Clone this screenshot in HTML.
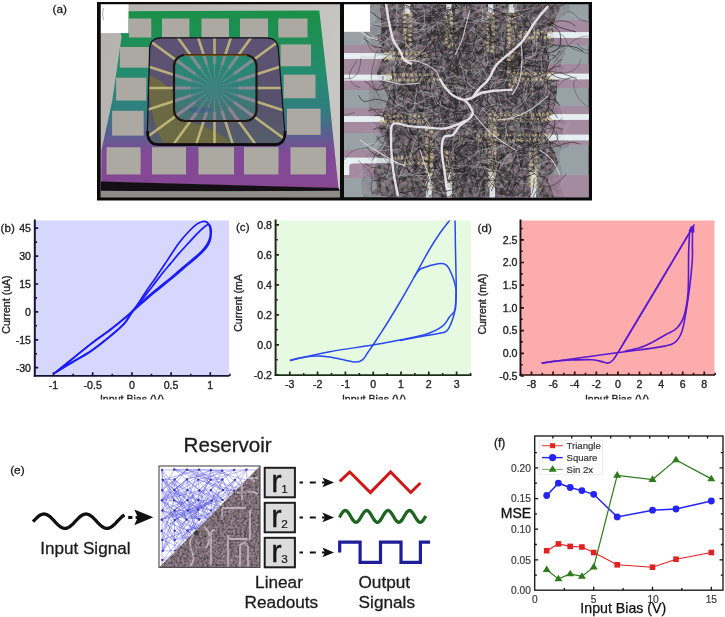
<!DOCTYPE html><html><head><meta charset="utf-8"><title>Figure</title><style>html,body{margin:0;padding:0;background:#fff;width:725px;height:617px;overflow:hidden}svg{display:block}</style></head><body>
<svg width="725" height="617" viewBox="0 0 725 617" font-family="'Liberation Sans', Arial, Helvetica, sans-serif">
<rect width="725" height="617" fill="#fff"/>
<text x="52.6" y="12.8" font-size="11.8" fill="#1a1a1a" stroke="#1a1a1a" stroke-width="0.3">(a)</text>
<defs><clipPath id="cl"><rect x="100.7" y="4.3" width="239.5" height="193"/></clipPath><clipPath id="cr"><rect x="344" y="4.3" width="244.7" height="193"/></clipPath><clipPath id="outsq"><path d="M149.7 48.8 Q150 37.8 161 37.8L266.4 37.8 Q277.4 37.8 278.3 48.8L284.9 133.2 Q285.8 144.2 274.8 144.2L158 144.2 Q147 144.2 147.3 133.2Z"/></clipPath><clipPath id="insq"><rect x="174" y="55" width="82.5" height="66" rx="11"/></clipPath><linearGradient id="chipg" x1="0" y1="0" x2="0" y2="1"><stop offset="0" stop-color="#1a9048"/><stop offset="0.18" stop-color="#1f8e58"/><stop offset="0.35" stop-color="#248c70"/><stop offset="0.55" stop-color="#2f7f7e"/><stop offset="0.68" stop-color="#54628e"/><stop offset="0.8" stop-color="#804a96"/><stop offset="1" stop-color="#874692"/></linearGradient><linearGradient id="bgl" x1="0" y1="0" x2="1" y2="0.3"><stop offset="0" stop-color="#b4b2ae"/><stop offset="1" stop-color="#c8c6c2"/></linearGradient><linearGradient id="osg" x1="0" y1="0" x2="0" y2="1"><stop offset="0" stop-color="#5e5274"/><stop offset="0.6" stop-color="#57516c"/><stop offset="1" stop-color="#545e6a"/></linearGradient><linearGradient id="isg" x1="0" y1="0" x2="0" y2="1"><stop offset="0" stop-color="#248a70"/><stop offset="0.55" stop-color="#33807a"/><stop offset="1" stop-color="#4e6c72"/></linearGradient></defs>
<rect x="97" y="2" width="495" height="198.5" fill="#0a0a0a"/>
<g clip-path="url(#cl)">
<rect x="100" y="4" width="241" height="194" fill="url(#bgl)"/>
<path d="M116 11.3 L319.3 10.6 L329.4 100 L338.5 188.5 L101.2 182 L101.5 150 L112.4 100 L121.5 37 Z" fill="url(#chipg)"/>
<path d="M101 181.5 L338.5 188 L340 191 Q220 192 101 191 Z" fill="#120e14"/>
<path d="M101 190.8 Q220 192 340 190.8 V198 H100 Z" fill="#8e8c8a"/>
<rect x="129" y="18.5" width="22.3" height="19" fill="#aca9a2"/>
<rect x="162" y="18.5" width="27.4" height="19" fill="#aca9a2"/>
<rect x="201.5" y="18.5" width="27.5" height="19" fill="#aca9a2"/>
<rect x="240" y="18.5" width="28" height="19" fill="#aca9a2"/>
<rect x="278.3" y="18.5" width="29.2" height="19" fill="#aca9a2"/>
<rect x="119.8" y="47" width="29" height="20.7" fill="#aca9a2"/>
<rect x="116.1" y="77.7" width="30.2" height="22.8" fill="#aca9a2"/>
<rect x="112.1" y="110.8" width="31.6" height="24.8" fill="#aca9a2"/>
<rect x="280.6" y="44.4" width="30.4" height="21.9" fill="#aca9a2"/>
<rect x="283.6" y="74.7" width="31.9" height="23.6" fill="#aca9a2"/>
<rect x="287" y="108.7" width="33.6" height="26.2" fill="#aca9a2"/>
<rect x="106.6" y="147.2" width="34" height="27.3" fill="#aca9a2"/>
<rect x="152" y="147.2" width="34" height="27.3" fill="#aca9a2"/>
<rect x="198.5" y="147.2" width="35.5" height="27.3" fill="#aca9a2"/>
<rect x="244" y="147.2" width="34.5" height="27.3" fill="#aca9a2"/>
<rect x="290.5" y="147.2" width="35.5" height="27.3" fill="#aca9a2"/>
<path d="M149.7 48.8 Q150 37.8 161 37.8L266.4 37.8 Q277.4 37.8 278.3 48.8L284.9 133.2 Q285.8 144.2 274.8 144.2L158 144.2 Q147 144.2 147.3 133.2Z" fill="url(#osg)"/>
<g clip-path="url(#outsq)">
<path d="M147 75 Q152 130 165 144 L235 146 Q215 128 190 122 L178 98 Q162 78 147 75Z" fill="#6e6c3e" opacity="0.9"/>
<path d="M214.5 68 L214.5 -22M220.7 69 L248.5 -16.6M226.3 71.8 L279.2 -1M230.7 76.2 L303.5 23.3M233.5 81.8 L319.1 54M234.5 88 L324.5 88M233.5 94.2 L319.1 122M230.7 99.8 L303.5 152.7M226.3 104.2 L279.2 177M220.7 107 L248.5 192.6M214.5 108 L214.5 198M208.3 107 L180.5 192.6M202.7 104.2 L149.8 177M198.3 99.8 L125.5 152.7M195.5 94.2 L109.9 122M194.5 88 L104.5 88M195.5 81.8 L109.9 54M198.3 76.2 L125.5 23.3M202.7 71.8 L149.8 -1M208.3 69 L180.5 -16.6" stroke="#c9c07c" stroke-width="2.6" fill="none" opacity="0.85"/>
</g>
<path d="M149.7 48.8 Q150 37.8 161 37.8L266.4 37.8 Q277.4 37.8 278.3 48.8L284.9 133.2 Q285.8 144.2 274.8 144.2L158 144.2 Q147 144.2 147.3 133.2Z" fill="none" stroke="#141016" stroke-width="1.2"/>
<path d="M147.6 131 Q147.5 144.4 158 144.6 H274.5 Q285.8 144.4 284.9 131" fill="none" stroke="#0e0a0e" stroke-width="2.6"/>
<rect x="174" y="55" width="82.5" height="66" rx="11" fill="url(#isg)"/>
<g clip-path="url(#insq)">
<path d="M214.5 88 L212.6 26 L216.4 26 ZM214.5 88 L231.9 28.5 L235.4 29.6 ZM214.5 88 L249.4 36.8 L252.4 39 ZM214.5 88 L263.5 50.1 L265.7 53.1 ZM214.5 88 L272.9 67.1 L274 70.6 ZM214.5 88 L276.5 86.1 L276.5 89.9 ZM214.5 88 L274 105.4 L272.9 108.9 ZM214.5 88 L265.7 122.9 L263.5 125.9 ZM214.5 88 L252.4 137 L249.4 139.2 ZM214.5 88 L235.4 146.4 L231.9 147.5 ZM214.5 88 L216.4 150 L212.6 150 ZM214.5 88 L197.1 147.5 L193.6 146.4 ZM214.5 88 L179.6 139.2 L176.6 137 ZM214.5 88 L165.5 125.9 L163.3 122.9 ZM214.5 88 L156.1 108.9 L155 105.4 ZM214.5 88 L152.5 89.9 L152.5 86.1 ZM214.5 88 L155 70.6 L156.1 67.1 ZM214.5 88 L163.3 53.1 L165.5 50.1 ZM214.5 88 L176.6 39 L179.6 36.8 ZM214.5 88 L193.6 29.6 L197.1 28.5 Z" fill="#b890a8" opacity="0.45"/>
<path d="M214.5 64 L214.5 26M221.9 65.2 L233.7 29M228.6 68.6 L250.9 37.8M233.9 73.9 L264.7 51.6M237.3 80.6 L273.5 68.8M238.5 88 L276.5 88M237.3 95.4 L273.5 107.2M233.9 102.1 L264.7 124.4M228.6 107.4 L250.9 138.2M221.9 110.8 L233.7 147M214.5 112 L214.5 150M207.1 110.8 L195.3 147M200.4 107.4 L178.1 138.2M195.1 102.1 L164.3 124.4M191.7 95.4 L155.5 107.2M190.5 88 L152.5 88M191.7 80.6 L155.5 68.8M195.1 73.9 L164.3 51.6M200.4 68.6 L178.1 37.8M207.1 65.2 L195.3 29" stroke="#b08ca2" stroke-width="3.6" opacity="0.45" fill="none"/>
<ellipse cx="200" cy="110" rx="12" ry="3" fill="#3a5a8a" opacity="0.5"/>
</g>
<rect x="174" y="55" width="82.5" height="66" rx="11" fill="none" stroke="#1e160e" stroke-width="2.2"/>
<path d="M184 55.3 H247" stroke="#8a6a20" stroke-width="1.6" opacity="0.7"/>
<rect x="100.7" y="4.3" width="27.8" height="28.8" fill="#fff"/>
<path d="M103.5 8 Q101.5 14 103.5 20" stroke="#555" stroke-width="0.8" fill="none" opacity="0.6"/>
</g>
<rect x="340" y="2" width="4" height="198" fill="#0a0a0a"/>
<defs><filter id="tex" x="0" y="0" width="1" height="1" filterUnits="objectBoundingBox"><feTurbulence type="fractalNoise" baseFrequency="0.22" numOctaves="3" seed="4" result="n"/><feColorMatrix in="n" type="matrix" values="1 0 0 0 0  0.8 0.2 0 0 0  0.8 0 0.2 0 0  0 0 0 0 1" result="g"/><feComponentTransfer in="g" result="gc"><feFuncR type="linear" slope="2.2" intercept="-0.6"/><feFuncG type="linear" slope="2.2" intercept="-0.6"/><feFuncB type="linear" slope="2.2" intercept="-0.6"/></feComponentTransfer><feComposite in="SourceGraphic" in2="gc" operator="arithmetic" k1="1.5" k2="0.25" k3="0" k4="0"/></filter><filter id="tex2" x="0" y="0" width="1" height="1" filterUnits="objectBoundingBox"><feTurbulence type="fractalNoise" baseFrequency="0.3" numOctaves="2" seed="9" result="n"/><feColorMatrix in="n" type="matrix" values="1 0 0 0 0  1 0 0 0 0  1 0 0 0 0  0 0 0 0 1" result="g"/><feComponentTransfer in="g" result="gc"><feFuncR type="linear" slope="1.2" intercept="0.05"/><feFuncG type="linear" slope="1.2" intercept="0.05"/><feFuncB type="linear" slope="1.2" intercept="0.05"/></feComponentTransfer><feComposite in="SourceGraphic" in2="gc" operator="arithmetic" k1="1.5" k2="0.25" k3="0" k4="0"/></filter></defs>
<g clip-path="url(#cr)">
<g>
<rect x="344" y="4" width="245" height="194" fill="#98a1a6"/>
<path d="M407.5 0 V50M449 0 V50M490.8 0 V50M511.5 0 V50M429 150 V200M449.5 150 V200M492.3 150 V200M533.5 150 V200" stroke="#a48ba0" stroke-width="19" fill="none"/>
<rect x="344" y="45" width="76" height="45" fill="#a48ba0"/>
<rect x="344" y="108" width="76" height="25" fill="#a48ba0"/>
<rect x="344" y="150" width="76" height="28" fill="#a48ba0"/>
<rect x="500" y="20" width="90" height="25" fill="#a48ba0"/>
<rect x="500" y="64" width="90" height="24" fill="#a48ba0"/>
<rect x="500" y="106" width="90" height="39" fill="#a48ba0"/>
<rect x="500" y="175" width="90" height="23" fill="#a48ba0"/>
<path d="M407.5 0 V50M449 0 V50M490.8 0 V50M511.5 0 V50M429 150 V200M449.5 150 V200M492.3 150 V200M533.5 150 V200M344 56 H430M344 77.5 H430M344 119 H430M344 160.5 H430M505 35 H590M505 76.5 H590M505 117 H590M505 137.5 H590" stroke="#e6f0f2" stroke-width="5.5" fill="none"/>
<path d="M346.5 175 V166 Q347 160.5 354 160.5" stroke="#e6f0f2" stroke-width="5.5" fill="none"/>
</g>
<path d="M370 0 C377 -3.4 402.3 0 418.5 0 C434.7 0 450.8 0 467 0 C483.2 0 498.5 -1 515.5 0 C532.5 1 562 2.2 568.8 5.8 C575.6 9.3 558.3 18 556.3 21.4 C554.3 24.8 555.5 21.3 556.9 26 C558.3 30.7 564.3 43.2 564.9 49.5 C565.5 55.9 560.6 60.8 560.3 63.9 C560 67.1 563.5 65.7 563.3 68.4 C563.1 71.2 560.7 76.2 559.4 80.6 C558 84.9 554.4 87.4 555.3 94.4 C556.1 101.3 564.6 117.7 564.7 122.2 C564.9 126.7 555.3 117.8 556 121.3 C556.7 124.9 568.4 138.1 568.9 143.4 C569.5 148.7 560.5 147.4 559.4 152.9 C558.2 158.5 562 171.4 562.1 176.6 C562.1 181.9 559.9 180.6 559.6 184.5 C559.2 188.4 567.9 197.4 560 200 C552.1 202.6 528 200 512 200 C496 200 480 200 464 200 C448 200 431.7 199.2 416 200 C400.3 200.8 379.1 207.2 370.1 204.6 C361.1 202.1 363.2 189.3 362 184.7 C360.8 180.1 362.4 181.7 363 176.9 C363.6 172.2 363.2 161.1 365.6 156.4 C367.9 151.7 375.2 153.3 377.1 148.5 C379 143.7 378.3 132.9 377 127.8 C375.8 122.7 370.8 123.2 369.5 118 C368.3 112.8 369.8 103 369.7 96.7 C369.5 90.3 368.9 83 368.7 80.1 C368.6 77.2 367 82.7 368.6 79.2 C370.2 75.8 377.8 65.7 378.2 59.2 C378.6 52.7 373.4 46 371.1 40.3 C368.9 34.6 364 28.3 364.9 24.9 C365.7 21.6 375.4 24.3 376.2 20.2 C377.1 16 363 3.4 370 0 Z" fill="#6c5764" opacity="0.22" filter="url(#tex)"/>
<path d="M384 0 C391.5 -3 412.3 0 426.5 0 C440.7 0 454.8 0 469 0 C483.2 0 496.3 -0.3 511.5 0 C526.7 0.3 552.2 0.6 560.2 2.1 C568.2 3.6 560.5 5 559.3 8.9 C558.1 12.7 553.9 19.2 553 25 C552.1 30.9 554.9 39.2 553.8 43.9 C552.6 48.6 546.8 47.6 546 53.2 C545.3 58.7 547.8 72.6 549.5 77.3 C551.1 81.9 554.9 78 556 80.9 C557.1 83.9 556.6 90.3 556.2 94.9 C555.7 99.6 555.3 102.6 553.4 109.1 C551.4 115.5 545.5 128.8 544.5 133.8 C543.4 138.7 544.9 134.1 547.1 138.9 C549.3 143.6 557.5 155.9 557.6 162.4 C557.7 168.9 548.8 173.6 547.6 177.9 C546.5 182.2 550.4 184.5 550.8 188.2 C551.2 191.9 557.2 198 550 200 C542.8 202 521.7 200 507.5 200 C493.3 200 479.2 200 465 200 C450.8 200 437.5 201 422.5 200 C407.5 199 382.5 196.1 375 193.9 C367.6 191.8 377.8 190.5 377.6 187.2 C377.5 183.8 373.7 179.4 373.9 173.9 C374.1 168.5 377 159.7 379 154.5 C381.1 149.3 386.1 146.9 386.2 142.6 C386.3 138.2 379.7 134.1 379.6 128.3 C379.4 122.6 383.8 113.9 385.4 108.1 C387.1 102.3 389.4 96.2 389.7 93.3 C389.9 90.4 389 93.5 386.9 90.5 C384.8 87.6 377.9 80.8 377.1 75.5 C376.4 70.1 382.3 64.7 382.4 58.2 C382.5 51.8 378.1 40.4 377.8 36.5 C377.6 32.6 380.1 38.1 380.7 34.9 C381.3 31.8 380.8 23.7 381.3 17.9 C381.9 12 376.5 3 384 0 Z" fill="#6c6268" filter="url(#tex)"/>
<path d="M344 56 H392M344 77.5 H392M344 119 H384 M344 160.5 H396M547 35 H590M547 76.5 H590M547 117 H590M547 137.5 H590M407.5 4 V14M449 4 V14M490.8 4 V14M511.5 4 V14M429 172 V198M449.5 172 V198M492.3 172 V198M533.5 172 V198" stroke="#e6f0f2" stroke-width="5.5" fill="none" opacity="0.9"/>
<path d="M384 58.6 L424 58.6 Q428.2 56 424 53.4 L384 53.4M386 80.1 L436 80.1 Q440.2 77.5 436 74.9 L386 74.9M380 121.6 L424 121.6 Q428.2 119 424 116.4 L380 116.4M392 163.1 L430 163.1 Q434.2 160.5 430 157.9 L392 157.9M552 32.4 L522 32.4 Q517.8 35 522 37.6 L552 37.6M553 73.9 L516 73.9 Q511.8 76.5 516 79.1 L553 79.1M553 114.4 L500 114.4 Q495.8 117 500 119.6 L553 119.6M550 134.9 L480 134.9 Q475.8 137.5 480 140.1 L550 140.1M404.9 12 L404.9 44 Q407.5 48.2 410.1 44 L410.1 12M446.4 12 L446.4 44 Q449 48.2 451.6 44 L451.6 12M488.2 12 L488.2 50 Q490.8 54.2 493.4 50 L493.4 12M508.9 12 L508.9 84 Q511.5 88.2 514.1 84 L514.1 12M431.6 188 L431.6 126 Q429 121.8 426.4 126 L426.4 188M452.1 188 L452.1 152 Q449.5 147.8 446.9 152 L446.9 188M494.9 188 L494.9 114 Q492.3 109.8 489.7 114 L489.7 188M536.1 188 L536.1 152 Q533.5 147.8 530.9 152 L530.9 188" stroke="#ccb886" stroke-width="3.4" fill="none" opacity="0.8" stroke-dasharray="2.6 1.6"/>
<path d="M384 58.6 L424 58.6 Q428.2 56 424 53.4 L384 53.4M386 80.1 L436 80.1 Q440.2 77.5 436 74.9 L386 74.9M380 121.6 L424 121.6 Q428.2 119 424 116.4 L380 116.4M392 163.1 L430 163.1 Q434.2 160.5 430 157.9 L392 157.9M552 32.4 L522 32.4 Q517.8 35 522 37.6 L552 37.6M553 73.9 L516 73.9 Q511.8 76.5 516 79.1 L553 79.1M553 114.4 L500 114.4 Q495.8 117 500 119.6 L553 119.6M550 134.9 L480 134.9 Q475.8 137.5 480 140.1 L550 140.1M404.9 12 L404.9 44 Q407.5 48.2 410.1 44 L410.1 12M446.4 12 L446.4 44 Q449 48.2 451.6 44 L451.6 12M488.2 12 L488.2 50 Q490.8 54.2 493.4 50 L493.4 12M508.9 12 L508.9 84 Q511.5 88.2 514.1 84 L514.1 12M431.6 188 L431.6 126 Q429 121.8 426.4 126 L426.4 188M452.1 188 L452.1 152 Q449.5 147.8 446.9 152 L446.9 188M494.9 188 L494.9 114 Q492.3 109.8 489.7 114 L489.7 188M536.1 188 L536.1 152 Q533.5 147.8 530.9 152 L530.9 188" stroke="#e8dcb0" stroke-width="1" fill="none" opacity="0.5" stroke-dasharray="1 3"/>
<path d="M439 192.2 Q444.3 201.4 443.7 205.3 T439 214.5 T434.4 223M533.8 96 Q541.1 100 545.2 99.2 T553.7 100 T559.9 105.9M494.9 168.9 Q495.2 161.7 498.5 159 T507.3 153.5 T519.1 153.9M413.9 42.8 Q419.4 40.8 422 36.7 T427.7 29.8 T437.4 25M444.4 35.1 Q432.3 34.1 429.7 34.4 T423.8 37.2 T419.1 42.8M520.3 46.7 Q514.1 57.8 514.6 63.8 T516.9 74 T520.9 80.3M495.7 9.2 Q498.1 1.6 498.2 -3.5 T497.8 -14.2 T494.3 -22.1M448 52.1 Q457.4 42.6 458.6 36.4 T462.1 28.6 T467.4 22.5M471.6 5.8 Q472.7 -1.5 474.7 -3.4 T481.7 -6.7 T493.6 -9.7M503 116.6 Q495.3 126.6 489.1 127.4 T476.9 125.4 T468.5 119.5M414.4 157.4 Q413.4 164.3 415.8 166.7 T423.3 169.7 T431 172.8M414.7 127.5 Q408.6 127.2 405.5 125.7 T397.1 127.1 T389.5 134.5M420.6 114.7 Q425.5 104.9 423.6 101.6 T416.7 94 T406.1 87.4M480.3 12.9 Q471 12.8 467.7 17.1 T461 22.6 T454.2 25.4M422.9 173.6 Q413.6 168.4 410.3 165.4 T406.2 160 T404.5 154.4M531.8 38.9 Q531.6 47.2 527.5 50.8 T521.1 59.8 T514.6 69.2M462.1 178.2 Q465 170.6 467.2 165.6 T471.5 158 T473.6 152.4M498.8 154.6 Q501.1 168.3 497.4 173.7 T495 184.8 T498.1 196.7M402.4 82.2 Q412.2 89.3 415.3 91.4 T422.3 97.1 T425.9 104.5M413.5 82.9 Q414.2 91.1 414.2 94.1 T414 99.8 T416.2 105M433.3 144.6 Q431.7 151.7 427.3 153.8 T419.4 157.2 T412.9 164.4M516.1 68.7 Q508.7 69.9 502.8 66.9 T491.5 66.4 T481.4 66.9M448.8 69.7 Q454.8 72.8 460.7 73.9 T469.5 77.5 T478.1 83.8M545 17.4 Q553.1 24.7 559 27 T569 30.2 T575.9 31.9M416.3 148 Q424.7 149.9 431.1 152.1 T440.5 154.6 T449.9 156M516.6 80.6 Q523.6 86.9 526.6 88.8 T533 91.1 T541.3 88.4M441.4 80.3 Q436.6 76.8 430.9 74.1 T422.1 65.6 T420.6 54.1M498 164.1 Q498.6 172.5 500.1 176.4 T503.8 185.2 T510.9 191.2M507 62.9 Q498.7 56.7 496.1 56.7 T487.8 59.8 T478.6 65.9M524.5 64.3 Q524.4 56.1 523.2 49.4 T519.6 39.2 T511.6 33.2M497.5 47.7 Q493.7 38.6 491.7 36.3 T487 30.1 T480.7 23.6M529.5 159 Q536.9 152.3 541.4 153.4 T546.9 157.2 T550.8 164M471.3 155.7 Q460.3 160.9 457.8 161.5 T452.8 161.9 T447.4 162.7M478.4 34.7 Q482.2 38.9 488.3 38.7 T500.6 40.4 T509.2 44.8M446.7 91.4 Q457.9 96.3 460.9 96.3 T468.6 93.4 T476 89.9M513.9 120.6 Q505.6 127.2 499 125.8 T489 118.3 T483 111.5M424.6 100.1 Q436.4 99.2 439.6 96.5 T446.3 91.6 T450.1 82.9M420 183.5 Q426.9 177 428.6 171.6 T428.7 163.8 T423.2 159.9M538.7 50.9 Q526.6 51.8 523.2 55.4 T516.5 63.2 T512.6 72.3M436 156.4 Q435.8 169.7 433.9 172.8 T431.3 180.3 T428.2 191M417 39.8 Q408.8 42.1 406.5 46.9 T403.5 56 T401 66.5M461.6 155.4 Q466.1 167.5 463.6 173.2 T460.7 182.9 T464.2 191.7M520.5 14.3 Q521.6 22.5 526.6 26.5 T534.8 36.1 T542.4 42.7M517.2 76.8 Q522 64.9 519.1 59.2 T511.7 52.6 T500.5 51M407.9 133.6 Q416.6 133.2 420.8 138.6 T425 147.5 T428.9 154.5M506.4 127.3 Q517.1 121.9 519.3 120 T524.5 117.7 T531 119.2M543.9 188 Q536.4 198.8 531.6 202.7 T526.9 211.8 T531.6 220.2M513.5 174.9 Q509.3 185.8 506.5 190.3 T505.7 201.3 T505.9 211.8M546.4 43 Q557.2 46.2 560.7 45.8 T571 46.2 T583.4 51.3M524.1 55.6 Q516.7 67.3 513.5 69.6 T508.8 78.2 T506.6 88.8M490.1 55.7 Q492.9 61.3 499.4 63.5 T512 62.4 T523.8 58.5M444.5 150.5 Q434.4 158.6 434 162.3 T436.8 169.4 T444.7 173.9M526.1 180.1 Q515.3 175.9 513.7 172.2 T512.9 163.9 T518.1 154.4M449.9 112.2 Q441.4 120.8 438.3 124.8 T432.9 134.2 T424.6 142.8M479.3 134.7 Q486 141.3 489.5 140.8 T499.3 141.9 T509.2 142.6M441.9 51.4 Q427.9 52.1 423.6 54.6 T412.6 59.1 T403.3 62.3M473.8 54.2 Q471.6 45.6 474.6 42.4 T476.5 34.3 T475.7 24.3M491.3 34.2 Q489.5 27.2 488.3 24.5 T489.1 17.7 T493.4 10.9M456.3 33.6 Q447.5 32 446.2 29 T446.8 21.4 T446.7 12.2M542.6 146.6 Q546.4 141.3 549.8 137.5 T553.7 129.6 T555.1 120M408 102.1 Q408.3 108.9 406.9 114 T408.5 123.8 T409.6 135.2M511.4 173.3 Q502.9 171.1 497.5 168 T489.5 165.3 T483.4 165M449.4 7.5 Q441 9.4 437.8 9.8 T431.6 15.9 T427.7 25M420.7 23.4 Q426.3 19.7 431.2 19.8 T441.4 21.9 T449.2 29M408.6 40.3 Q397.4 46.3 393.4 50.8 T386.8 56.6 T380.7 63.3M421.8 51.5 Q430.7 60.8 437.1 61.4 T447.8 57.9 T456 51.1M442.9 77.7 Q452.9 81.6 455.7 80.3 T463.2 79.3 T469.3 81.9M532.7 158.2 Q525.9 152.8 522.1 152.7 T514.1 150.3 T505.2 145.3M492.7 106.8 Q489.5 114 485.5 114.8 T478 120.9 T473.1 130.7M447.6 126.2 Q451.7 130.1 456 130.6 T465.2 127.6 T474.2 123.1M520.4 77.3 Q528 76.5 530 73.5 T537.3 70.1 T545.1 71.5M441.2 92 Q438.4 99.5 439.1 105.8 T442.7 113.7 T446.8 120.7M465.4 82.3 Q465.3 91.5 464 94 T458.2 97.2 T451.3 102.8M447.5 165.5 Q446.6 159.5 450.6 154.3 T460.5 147.2 T467.6 141.5M419.5 28.8 Q425.4 22.3 427.1 20.5 T430.2 15.6 T429.1 6.3M504.6 131.3 Q498.8 138.5 494.1 138.1 T486.6 136.2 T482 130.6M495.9 155.7 Q486.5 156.3 483.6 155.5 T474.7 154.6 T466.4 155.9M490.9 139.3 Q484.3 140.8 481.8 140.5 T476.6 140.5 T470.1 138.1M441.9 11.6 Q431.9 10.9 427.6 12.7 T420.4 15.5 T413.8 17.4M495.6 140.9 Q505.3 135.2 509.9 136.9 T516.8 140.6 T523.1 144M441.7 154 Q440.1 159.9 435.8 161.9 T427.5 162.7 T420.9 158.1M391.5 125.5 Q398.3 118.6 403.9 116.2 T411.9 112.1 T419.5 108.8M392.2 114.7 Q393 103.6 395.3 97.8 T400 87 T405.4 80.2M440.5 57.3 Q438.4 67.1 432 69.7 T422.7 75.7 T416.9 81.7M435.2 157.8 Q444 155.2 449 154.4 T459.6 149.9 T467.3 139.6M501.7 143.7 Q512.9 146.6 516.2 148.7 T526 151 T538.8 152.3M505.1 156.1 Q501.5 159.9 497.7 160.7 T491.1 159.9 T486.9 155.6M461.4 156 Q453.1 152.6 451.6 149.9 T451.3 144.6 T458.2 141.1M504.3 79 Q505.6 68.8 506.5 66.1 T505.3 59.7 T501.4 51.4M405.7 174.9 Q411.9 167.3 415.3 164.8 T420 155.5 T424.2 147.3M542 68 Q530.4 64.5 524.8 64.8 T516.3 66.5 T509.6 66.4M458.8 61.8 Q469.4 60.1 471.7 57.9 T476.9 53.4 T483.8 47.5M426.2 136 Q434.6 125.6 433.7 122.9 T433.8 115.4 T431.5 105M509 181.9 Q500.2 192.3 495.5 197.1 T484.3 201 T474.5 201.3M419.3 89.4 Q433.1 91.5 434.4 93.8 T437.5 98.2 T439 103.6M535 173.4 Q526.3 177.9 519.9 177.3 T511.2 177.7 T504.9 178.6M429.4 90.2 Q423.6 90.6 420.4 88.6 T411.1 86 T401.5 81.5M447.8 59.1 Q440.2 56.8 435.9 56.4 T425.3 57.6 T416 60.3M542.2 194.1 Q549.5 196 552.1 199.9 T552.6 209.5 T552 219.5M543.2 115 Q548.8 110.6 548.8 104.1 T550.6 93.4 T549.9 83.6M538.1 50.4 Q544.3 51.4 546.7 52.5 T554.2 51.4 T560.3 43.8M437.1 167.6 Q431.5 158.5 427.4 156.8 T421.3 148.6 T414.9 140.5M409.8 72 Q422.7 67.1 427.7 65.8 T437.1 64.6 T445.6 66.1M532.2 133.4 Q539.7 133.1 543 134.6 T547.3 138.9 T550.9 142.5M440.1 7.7 Q441.8 15.6 443.2 18.6 T448.6 24.8 T455.7 30M455.6 108.5 Q443.7 102.8 438 104.8 T428.4 108.2 T418 112.1M457.9 70.5 Q450.3 60.6 448.6 58.5 T446.3 53.7 T443.5 48.9M484.7 137.1 Q481.6 145.7 480.7 152.4 T482.1 164.5 T485.4 174.3M430.4 79.1 Q442 84.8 444.6 88.6 T451.1 92.7 T458.8 94.2M475.1 184.6 Q480.1 179.3 481.9 176.8 T486.1 171.4 T487.9 165.2M420.5 180.7 Q413.4 176.2 410 171.9 T404 167.7 T397.8 172.3M400.1 141 Q397.8 133.5 393.6 131.6 T382.9 128.3 T373.3 129.5M493 143.4 Q501.2 139.6 504.8 139.1 T511.4 136.7 T520.5 132.2M423.4 111.7 Q414.9 107.8 413 103 T413.5 92.4 T417 83.9M446.5 37 Q439.6 40.7 435 42 T426.3 48.5 T417.2 55.9M478.9 195.5 Q477 182.1 475.9 179.7 T471.2 173.4 T462.4 168.3M400.7 109.4 Q407.5 113.4 411.3 112.6 T419 113.4 T424.3 121.5M395.7 153.2 Q398.1 157.8 398.2 163.3 T399.5 174.3 T398.9 182.7M390.3 53.7 Q384.7 47 379 47.4 T370.6 44.3 T363.5 38.5M451.9 168.9 Q443.9 167.7 440.9 168.2 T431.7 168.5 T420 164.3M412 178.4 Q406.3 168.8 406.4 163 T407 154.6 T410.3 149.7M450.5 104.9 Q452 97.4 453.1 94.4 T456.9 86 T465.2 79M533.4 102.6 Q534.9 111 534.7 115 T532.4 123.7 T530.8 131.9M437.5 73.2 Q432 76.2 426.3 80.1 T416.9 89.2 T408.1 97.1M450.3 168.6 Q451.4 161.4 455.3 157.7 T458.9 149.4 T455.5 142.8M455.2 49.7 Q466.4 51.5 472.9 52 T481.8 54.2 T486.2 60.8M487.7 7.4 Q497.2 11.2 502.6 13.5 T510.8 16.6 T517 20.9M508.2 104.9 Q507.5 95.4 506.4 90.7 T506.6 79.8 T512.4 70.4M470.8 111.6 Q463.6 113.5 462.3 116.4 T459.4 122 T457.6 129M455.1 69 Q445.9 75.5 442.8 75.8 T433.4 76.1 T422.1 77.3M450.9 119.1 Q443.1 110.4 442.5 103.9 T438.1 92.7 T434.3 82.3M494.8 177.2 Q492.5 172 493.1 168.3 T494.1 160.5 T497.9 152.5M531 171.2 Q537.4 162.5 538.5 159.6 T545.1 154.2 T555.1 152.6M472 157.7 Q469.1 170.3 470.4 176 T473.4 184.6 T473.9 192.7M468 153.8 Q457.7 157 455 160.5 T449.8 168.4 T448.4 176.6M504.3 68.1 Q509.1 65.8 511.6 66.8 T520.4 66.4 T533.1 62.7M419.9 173.6 Q430.9 179.3 437.4 178.9 T445.4 176 T447.7 170.2M503.9 164.1 Q501.2 171.4 499.6 174 T495.7 180.8 T491.4 191.1M451.4 16.3 Q457.5 17.3 463.9 19.5 T475.4 19.2 T486.3 14.2M450.5 63.1 Q451.3 68.2 449 73.8 T448.2 82.5 T449.7 89.8M449.8 183.3 Q446.2 174.5 442.2 170.8 T436.9 163.6 T435.5 157.7M498.3 40.6 Q489.3 43.3 485.8 45 T481.4 50.4 T478.5 56.4M477.1 102.1 Q483.7 98.8 486.7 97.9 T492.3 93.7 T498.2 86.5M487.6 102.7 Q487.4 89.6 488.4 86.8 T489.8 77.2 T486.9 67.8M445 62.7 Q436.8 63.8 434.9 62.1 T428.9 61.4 T419.7 65.9M535.1 71.8 Q534.4 58.5 537.4 54.7 T542.3 46.9 T542 37.9M465 50.9 Q461.5 46.5 462.4 40.5 T462.7 30.3 T457.7 20.9M388.8 50.8 Q399.4 51.2 403.2 46.2 T412.7 41.6 T420.9 44.6M540.4 88.1 Q531.4 86.8 524.6 88.5 T515.1 93.3 T510.3 103.1M423 23.7 Q411.1 28.6 404.8 27.4 T392.7 27.1 T384.4 26.7M541.5 61.1 Q537.6 71.4 538.6 74.5 T545.7 79.7 T558.6 80.6M414.3 9.6 Q410.5 -2.1 407 -3.1 T397 -4.9 T385.9 -7.2M439.1 65.1 Q436.7 59.6 435.9 55.7 T435.1 49 T432.6 41.7M519.1 171 Q522.1 158.8 523.5 155.5 T523.3 148.6 T518.4 143.6M509.8 125 Q499.7 133.4 499.9 138.3 T498.9 147.1 T498.7 156.9M514.2 160.1 Q520.5 163.8 526.2 167.4 T534.8 173.9 T544.4 176.8M478.1 105.6 Q483.3 106.3 486 107 T495 105.5 T505.3 101.3M501.4 180.3 Q491.1 179.9 488.4 180.7 T482.8 181.1 T475.3 180.2M544.1 68.4 Q541.1 56.7 543.4 53.5 T543.8 44.6 T543.2 32.4M433.3 146.3 Q442.1 145.8 445.6 148.2 T453.6 152.1 T462.1 154.1M509.9 142.3 Q498.1 143.2 494.3 144.6 T485.5 147.2 T478.1 146.5M449.8 164.7 Q453.8 168.4 459.8 171.3 T471.6 175.5 T483.5 177.1M486.7 90.1 Q476.5 88.3 471.8 88 T463.3 85.9 T453.6 83.7M423.9 97.7 Q413.3 90 408.4 88.8 T401.1 88.3 T395.9 90.3M537.6 89.5 Q545.1 97 547 102.7 T552.6 111.8 T557.3 117.7M521.3 137.8 Q528.2 131.1 528.6 128.5 T526.3 121.6 T521.1 113.9M443.1 72.9 Q448.4 65.8 453.6 62.3 T461.7 59.9 T467.7 67.2M425 127.6 Q418 129.2 414.2 130.6 T404.2 132.7 T395.5 136.5M541.1 162.2 Q534.4 164.8 530.6 169.8 T521.5 178.7 T513.9 186.8M520.3 27.3 Q528.7 26.3 533.8 27.9 T544.5 26.6 T553.6 23.3M449.3 10.9 Q440.9 16.7 436.5 17.4 T426.5 17.7 T417.8 19.1M479.5 85.4 Q486.2 79.1 490.3 80.1 T499.2 78.6 T508.6 75.2M427.1 24.1 Q425.7 30.8 426.6 33.7 T432.2 41.7 T441.8 51.1M390.4 90.2 Q401.6 89.5 405.4 90.3 T412 89.7 T417.1 83.9M516.3 182.4 Q513.5 186.7 512.7 189.6 T507 196.7 T495.9 202M499.6 43.7 Q489.6 42.1 486.6 40.5 T480.1 33 T473.6 25.7M524 139.8 Q516.7 138.8 515.2 135.7 T508.4 129.9 T497.7 123.3M466.9 10.9 Q466.7 -0.4 465.2 -6.1 T466 -15.5 T470.9 -24.6M529.3 66.1 Q523.6 68.2 517.9 68.4 T506.2 70.3 T496.3 70.4M413.3 106.8 Q405 109.1 402.2 108.3 T396.9 105.4 T392.4 99.8M476.9 58.3 Q470.5 63.3 470.6 67 T468.3 73.8 T464.4 82.6M389.6 139.8 Q389.5 153.8 390.9 156.9 T392.6 162.6 T392.1 169M473.3 119.2 Q473.8 127.7 477.7 130.5 T484.2 139.1 T486.5 148.9M399.5 141.7 Q409.6 149.1 411.1 151.4 T413.7 157.6 T416.5 167.6M429.7 141.4 Q430.4 133.4 427.5 127.3 T421 116.5 T411.5 108.4M538 131.9 Q542.4 136.1 544.6 139 T551.2 142.8 T561.3 147.1M424.2 81.1 Q410.8 84.1 407.5 89.1 T403.6 98 T403.7 104.6M408.8 8.2 Q415.6 13.9 416.3 17.2 T418.2 25.7 T417.5 36.3M399.9 192.8 Q412.1 191.3 415.3 190.4 T421.4 188.1 T427.8 188.2M478.4 98.3 Q469 104.6 462.7 104 T453.8 103.8 T445.4 104.2M452.9 127.9 Q464.9 122 470.6 123.6 T478.2 130.2 T482 137.2M459.4 138.7 Q453 150 454.4 153.3 T455.6 161.5 T454.1 170.9M517.6 72.2 Q506.8 77.6 502.9 81.7 T499.3 90.4 T496.6 97.3M515.7 62.4 Q506.5 57 504.9 54.1 T505 46.6 T505.6 38.2M546.9 73.8 Q546 66.9 548.8 62.6 T554.1 57.5 T560.1 50.8M414.2 137.2 Q409.2 140.7 407.5 147.2 T403.5 158.9 T397.7 170.2M454.6 111 Q461 112.5 464.3 111.1 T470.2 111.2 T477.8 115.1M437.8 112.1 Q439.9 118.9 441 123.8 T445.5 133 T452.8 137.8M510.5 18.8 Q513.9 13.7 517.6 12.2 T525.2 7.2 T533.6 -0.2M494.5 44.4 Q495.8 57.9 494.7 60.9 T495.5 66.5 T497.4 73.1M416.6 95.8 Q411.1 103 405.6 106 T396.9 112 T390.6 115.9M425.8 49.7 Q426.4 42.5 429 39.6 T431.4 30.7 T430.7 19.9M468.7 160.9 Q463.3 171.1 459.8 175.7 T452.2 181.3 T443.4 185.1M490.3 60.6 Q497 70.9 502.9 73.8 T511.6 80.9 T517 86.4M537.9 6.6 Q541.1 -3.7 538.6 -7.2 T536.4 -15.2 T541.3 -24.9M466.9 100.8 Q461.9 96.7 459.9 93.9 T455.8 89 T451.3 81.5M454.1 37.4 Q456.8 30 460 28.7 T465.7 25.1 T473.3 23.8M453.5 34.9 Q454.6 26.8 453.6 22.4 T453.7 12.3 T457.3 5.4M465.8 24.7 Q462.9 32.2 456.8 35.1 T448.3 44.4 T439.6 52.9M464.4 6.4 Q464.8 -1.8 463.4 -7 T458.1 -17.4 T451.4 -25M450.2 149.9 Q442.7 148 437 144 T426.8 136.8 T419.5 133.3M470 44.5 Q463.4 46.9 460.5 53.3 T457.1 64.4 T458.2 74.8M457.2 7.3 Q453.3 0.9 453.8 -2.8 T458.6 -9.3 T468.4 -11.9M445 22.8 Q447.9 29.8 451.9 30.8 T458 34.8 T458.3 42.5M410.9 98.8 Q415.6 101.3 421.2 104.3 T432.3 105.2 T439.8 98M389.1 17 Q392.3 26.7 398 30.5 T408.7 36.6 T415.3 44.3M434.8 153 Q425.9 145.9 420.7 142.6 T411.8 139.1 T406.6 136.6M438.8 81.4 Q450.2 83.2 452 85.2 T455.1 92.6 T454.5 100M472.4 11.2 Q467.7 0.3 467.3 -5.3 T468.7 -13 T472.9 -18.2M448.2 20.1 Q449.7 25.6 450.6 31.1 T455.5 42.2 T465.2 48.2M428.9 188.8 Q421.6 191.3 420.1 193.5 T416.3 197.5 T413.5 203.8M480 141 Q470.6 138 464.3 136.7 T453.5 134.4 T446.6 130.7M476.1 24.6 Q464 26.9 459.3 31.2 T447.9 34 T437.9 31.2M416.5 59.9 Q423.8 68.3 427.3 72.2 T430.3 82.9 T430.8 93M520.6 159.8 Q520.4 169.2 522 173.2 T523.7 180.7 T523.8 191M508.6 133.3 Q497.3 137.7 491.5 138.8 T481 138.4 T473.5 134.7M494 114.8 Q483.5 107.8 481 103.5 T479.4 95.2 T481.8 86M481.8 88.5 Q483.1 97.5 486.9 101.7 T493.9 109.3 T499.6 116.2M457.7 92.2 Q448.3 94.1 443.5 97.7 T434 100.8 T423.6 103.5" stroke="#1c181c" stroke-width="0.8" fill="none" opacity="0.8"/>
<path d="M414.4 136.4 Q409.6 131.4 408.5 125.4 T406.7 114.6 T404.3 108M537.2 86.2 Q539.3 99.3 538.3 103.7 T531.7 110.1 T522.2 114.4M474.4 137.2 Q475.7 132.2 477.6 130 T482 127.2 T488.1 122.1M546.2 17.6 Q538.7 13.6 535.6 13 T528.8 11.5 T523.2 6.2M512.3 76 Q511.4 62.9 514.7 60.1 T524.6 58.9 T537 63.4M473.5 57 Q465 49.7 465.1 47.1 T466.5 39.3 T471.8 31M497.3 148.3 Q495.3 142.4 493.5 139.5 T490.3 130.8 T486.1 123.6M470.1 172.1 Q479.7 166.8 480.2 163.1 T482.1 155.3 T484.6 145.2M459.9 194.2 Q466.5 182.2 466 178 T462.6 172.5 T454.2 167.3M442.1 55.8 Q439.5 66.1 437.1 67.6 T433.9 73.8 T431.5 81.4M504.5 104.7 Q507.3 111 511.3 112 T520.4 114.4 T530.8 113.9M464.6 169.9 Q462.8 177.2 466.1 181.7 T471.3 191 T473.6 199M468.1 83.2 Q469 90.7 470.3 96.5 T467.4 107.4 T462.3 117.6M471.7 175.9 Q466.1 180.3 462.4 184.2 T453 189.7 T443.7 191.3M547 76.4 Q547.9 87.3 547.6 92.4 T544.2 99.1 T538.4 105.7M483.1 89.2 Q478.1 82.5 476.2 77.5 T471.8 69.2 T468.7 60.7M411.9 63.2 Q416.5 70.9 420.2 72.9 T425.4 79 T426.8 88.5M510.7 48.3 Q517.4 47 520.5 45.6 T529 43.4 T536.9 40.6M448.9 182.3 Q449.8 176.9 453.1 172 T456.1 164.1 T455.5 158.3M405.8 102 Q403.8 113.2 403.7 117.5 T402.4 124.4 T400.1 132.7M388.6 69.4 Q393.7 74 399.7 72.8 T409 67.6 T416.9 59.5M518.7 178.6 Q507.2 181.6 503.6 178.4 T499 172.8 T500.3 164.6M461.6 94.7 Q452.5 98.8 450.3 101.4 T445.1 106.5 T438.2 111.4M508.4 125.5 Q515.1 116.7 519.9 116.8 T526.8 119.1 T529.7 124.9M498.8 86.8 Q506.8 84.2 510.1 79.7 T520.1 75.7 T532.8 78.1M488.1 35.5 Q488.7 29.5 491 24.6 T495.9 18.3 T500.9 18.2M533.4 152.1 Q534.1 145 532.2 140.3 T529.4 132.1 T531.8 123.9M393.3 97.1 Q404.9 90.2 409.8 86.9 T415.5 77.3 T420.1 66.9M544.5 53.8 Q547.1 41.9 546.7 37.3 T547.9 29.4 T551.8 21.4M427 131.7 Q434.2 137.6 437.3 142 T439.3 149.6 T436.7 157M538.4 17.8 Q537 23.9 532.6 26.4 T523.7 31.9 T515.7 34.4M527.7 171.1 Q525.7 159.2 523.4 156.3 T517.7 148.3 T509.4 140.9M412.8 5.7 Q404.4 -3.1 398.9 -3.8 T388.6 -4.7 T380 -8M433.5 7.4 Q434.4 18.5 437.6 20.8 T442.7 26.8 T449.8 32.7M445.2 161.5 Q444.4 168.2 443.2 171.6 T438.6 180.3 T436.1 188.9M498.3 166.6 Q492.1 174.1 489.7 178.9 T482.4 185.2 T476.2 190M509.8 172.2 Q514.6 160.5 513.1 155.8 T508.9 145.2 T506.1 134M443.6 89.3 Q450 91.6 452.1 93.8 T453.9 101.2 T453.7 109.5M483.6 96.1 Q481.3 101.1 481 105.6 T478.4 113.7 T473.7 122.4M514.8 55.6 Q509.4 62.7 509.6 68 T505.8 78.2 T502.7 89.2M490.5 122.8 Q501.1 128.1 504.5 130.2 T511.8 135 T515.8 143.9M417.5 78.7 Q409.8 69.8 406.2 69.5 T399.8 68.4 T394.3 69.4M389.4 156.4 Q389.5 164 388.4 169.7 T382.3 178.3 T372.5 180.6M494.7 142.6 Q501.7 133 507.3 132.4 T515.8 131.3 T521.7 130.4M463.7 125.4 Q458.8 123.4 457.6 120.4 T455.6 112.6 T456.5 104.4M477 58.7 Q484.4 67.7 486.3 69.8 T491 77.8 T500.2 86.5M509 180.8 Q507.2 174.6 503.1 168.9 T492.8 161.1 T482.9 158.8M490 84.9 Q481.5 84.4 477.2 79.9 T471.2 73 T463.8 66.9M431.9 121.4 Q422.1 127.9 420.8 132.2 T416.9 137.9 T408.6 136.6M508.8 184.9 Q510.4 179.5 509.4 177 T511.1 169 T519.6 161.8M452.4 151.1 Q460.3 143.7 465.9 145.2 T476.7 145.5 T483.6 141.1M525.7 193.3 Q531.7 201.7 537.5 204.2 T545.3 209.8 T554.1 213.5M531.5 131.4 Q532.3 138.9 530.7 142.7 T524.2 149.2 T514.4 151.1M475.1 7 Q464.3 3.4 460.2 4.3 T453.7 3.7 T449 -2.2M538.3 149.2 Q537.3 139.4 537.3 135.2 T537 126.9 T536.7 116M393.2 25.9 Q386.9 27.4 385.2 30.5 T380.5 34.8 T374.7 35.8M506.1 141.3 Q518.5 135.3 523.4 137.2 T532.7 143.6 T539.9 154.2M542.3 148.9 Q553.2 147.5 558.7 145.6 T568.7 142.6 T579.4 143.8M486.1 191.2 Q480.8 201.5 475.9 205.9 T471.5 216.4 T475.2 224.6M462.5 189.8 Q462.4 197.5 463.4 201.8 T465.2 209.7 T467.4 219.8M447.7 88.4 Q458.7 92 460.6 93.8 T468 99.4 T476.7 103M473.2 120.4 Q465.2 112.5 458.5 113.9 T449.1 115.9 T440.7 115.1M485 10.1 Q495.5 17 501.1 20.1 T512.8 20.4 T521.4 13.2M423.9 48.3 Q432.3 58.2 431.7 62.3 T430.3 71.1 T427.5 81.3M390.2 103.4 Q377.9 97.4 372 99.9 T363.5 101.2 T358.5 95.2M528.8 139.2 Q526 131.4 527.2 127.3 T524.8 118.2 T520 107.1M407.2 130.6 Q407.2 122 404 119.7 T396.4 117.9 T387.4 122.3M513.4 7.3 Q515.3 -2.3 516.5 -5.4 T517.2 -13.1 T519.9 -20.9M446.2 175.6 Q434.2 175.5 430.9 176.2 T425.2 182.9 T419.9 194M527.5 117.7 Q533.6 124.7 536.2 124.8 T542.8 123.9 T553 126.2M452.6 145.5 Q447.2 147.5 444.6 147.8 T435.9 148.3 T427.6 150M469.4 70.9 Q468.3 64.3 466.9 60.4 T466.5 53.2 T468.1 44M538.6 18.2 Q530.3 13.7 528.2 11.9 T521.8 11.4 T513.9 17.5M499.6 163.7 Q496.8 168.5 497.1 172.6 T494.3 180.3 T489.7 187.1M460.5 165.5 Q469 176.2 472.4 179.1 T479.8 184.3 T485.2 189.4M496.2 126.2 Q500.6 138 504.2 141.4 T511.8 149.7 T516.3 160.7M456.7 89.2 Q457.4 99.8 453.6 103.7 T446.9 111.6 T442.3 121.4M527 120.3 Q535.9 122 540.8 119.3 T548.4 115.4 T554 113M440.9 4.6 Q447.5 13 453.2 14.9 T460.2 19.4 T466.3 24.4M423.3 92.1 Q429.8 98.9 435.7 100.8 T443.1 104.7 T450.8 107.7M438.6 72.9 Q442.7 76.9 446.2 76.5 T453.4 74.2 T462.7 69.4M490.7 145.6 Q487.9 153.5 485.1 158.6 T480.8 169.7 T474.2 180.4M483.3 13.1 Q470.5 15.6 465.2 17.9 T456.2 21 T449.7 21M421.1 72.5 Q426.7 77.9 428.5 81.6 T431.1 90.4 T431.7 99.8M530 194.6 Q526.1 203 525.3 209 T526.8 220.8 T534.5 228.6M523.5 110.7 Q521.9 97.8 519.1 94.7 T515.6 88.7 T509.4 81.8M534.1 119.9 Q537.3 109 537.5 102.5 T539.3 91.3 T540.2 84M437.5 161.3 Q427.6 162.7 423.8 159.5 T418.8 150.7 T419 138.8M447.3 149.1 Q451.9 145.6 456.4 141.1 T467.5 135.9 T476.5 131.9M510.9 104 Q518.4 93.2 522.5 92.4 T532 91.7 T541.2 97.3M394.1 103 Q396 96.1 394.3 92.2 T394.7 81.8 T398 72.8M474.5 188 Q462.4 185.2 459.7 182.8 T451 180.2 T440.9 182.4M527.5 83.4 Q521.4 89.5 518.1 92.4 T510.9 96.1 T503.2 97.3M466.1 149.9 Q470.3 155.8 475.1 158.9 T483.5 164.2 T492.5 164.8M438.4 51.1 Q446.2 48.5 452.9 50 T462.8 52.8 T469.3 53.7M449 65.3 Q450.1 78.3 448.9 81.8 T447.1 88.2 T447 94.2M544.3 138.1 Q541 142 538.4 142 T533.5 143.5 T527.6 145.2M527.7 107.8 Q535 101.7 535.5 99.2 T536.1 93.6 T535.3 85.9M402.3 171.8 Q410.9 164 410.4 159.6 T407.1 152.6 T401 148.4M427 45 Q422.8 55.8 422.2 58.7 T417.2 63.9 T408.1 64.3M469.1 192.5 Q473.5 184 476.3 181.4 T482.1 178.9 T486.9 181.5M494.2 156.1 Q491.8 166.5 495.6 171 T502.7 177 T509.3 178.7M469.2 160.5 Q476.5 169.6 476 174.5 T477 181.6 T481.2 189.2M426.4 186.9 Q419 186.7 415.8 188.2 T410 191.2 T401.7 194.4M427.8 79.1 Q414.8 81.7 411.9 85.9 T405.2 93.4 T395.1 99.2M440.1 178.8 Q442.7 188 445 192.6 T448.8 203.1 T453.1 214.3M513 149.7 Q515.6 154.6 518.4 155.5 T527.1 159.2 T536.7 165.5M397.5 161.1 Q409.9 160.7 413.5 155.5 T420.1 147.3 T425.6 143.5M538.7 43.7 Q536.2 49.4 533 50.8 T525.3 51.7 T514.4 50.6M393.4 94.9 Q396.8 88.6 399.5 87 T407.7 86.3 T415.9 89.4M458.7 121.3 Q457.5 115.1 454.2 113.6 T449.9 109.8 T448.5 104.6M502.1 27.4 Q490.5 31.9 484.6 35.5 T475.2 38.6 T466 40.4M471.2 168.2 Q460.1 175.1 456 178.1 T448.4 180.6 T443.5 177.4M445.9 62.3 Q453 59.6 454.4 55.2 T453.7 44.2 T453.6 33.4M391.3 82.9 Q381.7 91 377.1 89.9 T371.2 86.6 T364.5 81.1M503.9 6.5 Q508.8 3.4 514.3 3.2 T525.3 1 T535.1 -3.1M458.4 8.2 Q450.4 8.9 446.2 10.6 T436.2 14.5 T426.2 16M441.1 19.3 Q433.8 11.3 428.1 11.7 T418 14.2 T409.4 19.5M391.1 30.6 Q381.6 40.8 376.7 40.2 T368.8 35.5 T360.9 29.1M520.2 43.2 Q531.2 35.1 531.9 32.7 T538.6 27.3 T548.1 19.4M547.7 133.8 Q538.3 125.3 536.2 119.5 T536.9 109.5 T540.8 102.7M528.5 157.4 Q516.9 152.3 513.8 148.7 T511.5 141.2 T511.4 132.6M468 34.1 Q468.2 40.8 469.9 42.8 T476.6 45.8 T485.4 46.5M534.3 146.6 Q539.8 139.9 540.5 136.8 T543.7 128.3 T550.9 121M500.6 87.2 Q492.4 88.4 485.6 89.9 T474.5 89.8 T467.9 87.2M395.4 183.9 Q390.3 180.9 386.1 179 T378.5 176.9 T371.6 178.1M427.6 131.9 Q422.7 140.4 423.2 144.4 T428.3 150.9 T435.4 152.2M513.8 26.8 Q517.8 39.8 515.5 44.8 T515 53.7 T521.2 60.9M436 17.8 Q427.2 16.4 422.8 20.9 T413.4 28.6 T406 34M440.5 88.3 Q443.2 96 441.9 98.6 T437.7 102.9 T431.9 105.4M500.6 55 Q506.1 56.9 508.1 63.3 T513.5 71.1 T522.5 69.6M541.7 168.6 Q546.5 166.9 548.4 162.2 T550.1 153.6 T550.3 146.7M494.6 122.8 Q487.7 121.2 484.2 121.1 T478.8 124 T472.4 132.2M512.7 101.3 Q505.2 102.9 500.7 107 T493.4 111.7 T487.9 112.9M465 177.1 Q458.3 182.5 457.2 187 T454.1 193.7 T450.1 199.9M532.6 77.2 Q527.7 87.7 525.6 89.3 T520.2 93.6 T516.6 98.7M444.8 136.7 Q444 130.5 445.3 125.8 T445.7 118 T448.4 109.9M543.6 85.1 Q544.5 76 547.5 73.2 T553.7 66.5 T562.1 59M452.3 84.4 Q448.7 94.6 450.7 100.7 T453.7 113.3 T458.2 123.9M534.2 178.1 Q534.2 184.8 532.6 191.1 T524.9 199.9 T516.1 206.2M475.4 154.2 Q487.1 157.6 493.9 158.7 T504 156.4 T511.6 149.9M488.4 148 Q478.4 147.2 474.4 145.3 T464.5 145.4 T457 149.4M438.1 99 Q440.4 107.7 443.4 113.2 T448.5 123.7 T451.7 132.1M423.7 136.1 Q430.7 138.6 433.2 140.1 T438.4 142.3 T442.8 145.6M474 9 Q468.1 9.6 464.3 6.7 T456 1.9 T450.2 -5.5M529.4 82.2 Q535.9 75.2 540.4 74.3 T550 69.5 T560.7 65.8M487.3 51.8 Q497.6 56.6 499.6 58.5 T504.3 61.2 T513.6 61.7M437.9 95.5 Q441.3 102.4 445.8 106 T455.1 108.1 T461.6 102M435.3 27 Q434.8 36.5 434.3 39.6 T437.4 48 T442.8 54.7M473.6 118.6 Q476 112.9 475.1 109.8 T475.9 104.1 T482.3 96.3M512.6 153.2 Q506.3 151.6 500.2 154.8 T492.2 161.5 T487.8 165.5M539.9 188 Q542.1 179.7 546.5 175.1 T552.4 166.5 T556.9 158.1M415.3 31.5 Q406.5 33.4 404.9 35.5 T404.2 42.7 T403.9 50M523 167.2 Q531.9 157.7 537.5 154.6 T546.2 148.2 T553.2 141.7M515.1 28.6 Q513.7 33.9 514 40.2 T513.4 49.5 T511.6 55.6M427.1 33.6 Q433.7 44.8 435.1 47.3 T440.4 51.9 T446.8 54.3M453.9 186.8 Q452.3 174.5 451.5 170.2 T448.4 163.8 T444 158.6M528.6 121.5 Q529.9 133.6 527.2 137.8 T520.7 144 T513.3 147.6M442.7 13.6 Q437.4 22.3 439 26.7 T441.9 35 T445.7 40.3M512.7 139.3 Q516.4 129 521.2 125.8 T528.8 117.3 T534.7 110M520.9 122.8 Q518.4 127.2 521.3 133.5 T526.5 141.3 T532.9 146.7M434.7 180.8 Q438.5 188.3 442.1 193.8 T450.6 202.5 T456.4 208.8M534.6 76.8 Q528.3 71.4 524.5 69 T517 65.1 T506.6 64.4M405.8 165.3 Q393.6 158.8 386.7 158.1 T374.6 154.3 T367 147.2M546.9 22.7 Q553.4 25.9 556.9 28.5 T560.5 36 T560.3 46M401.6 113.4 Q397.5 118 393 119.2 T384.7 117.4 T374.7 115.7M397.2 80.5 Q398.2 70.9 403.6 67.6 T414.9 66.6 T422.2 72.3M483.8 180.2 Q483.7 186.7 481.4 190.4 T478 199 T475.4 210M538.9 23.5 Q540.9 33.7 540.7 39.2 T544.5 50.3 T548.9 60.4M441.1 150.1 Q432.2 148 427 147.7 T419.1 148.7 T412.6 155.6M505.4 62.5 Q514.3 60.2 516.9 59.7 T522.4 60 T528.7 64.1M546.5 66.8 Q550.9 75 556.4 77 T564.8 79.1 T570.4 78.4M496.4 81.6 Q502.7 74.8 503 70.2 T504.4 60.3 T510 53M442.5 147.5 Q444.2 158.5 446.7 163.3 T452.4 169.4 T460.9 171.9M523.2 122.3 Q529 116.4 528.5 112.9 T528.2 102.5 T527.6 89.9M522.6 124.5 Q518.9 121.2 514.3 117.5 T505.9 111.8 T500.1 107.1M513.4 48.4 Q524.1 49 530 46.6 T538.1 39.4 T543.7 31.7M453.8 167.1 Q466.3 167.7 471 172.6 T479.6 181 T484 191.2M534.4 169.6 Q533.8 163.5 532.7 157 T527.1 147.6 T517.1 141.1M438.1 37.8 Q443.4 31.5 446.4 30.5 T452.2 26.5 T461.5 24M416.1 103.5 Q406.3 108.9 404.5 111.7 T400.6 119 T394.8 124.8M461.3 137.8 Q456 139.8 452.8 145.7 T450.6 155.8 T452.3 162.7M478.7 89.8 Q485.8 89.5 490.7 93.9 T498.4 98.3 T504.3 97M458.3 26.1 Q462.1 35.5 460.8 41.8 T457 51.3 T449.7 54.7M430.3 119.2 Q419.8 126.7 417.2 126 T411.6 127.5 T404.6 134.1M461.1 75.9 Q466.2 63.6 468.1 57.7 T472.1 45.8 T477.8 36.6M466.7 145.7 Q475.5 154.2 476.4 157.4 T476.1 164 T469 170.2M391.7 105.9 Q400.6 110.5 404.1 112.7 T411.9 116.9 T419.9 118M450.4 90.5 Q451.3 83.8 452.6 78.3 T458.4 71 T464.6 65.8M422.2 160.4 Q413.7 170.5 412.2 175.4 T412.3 183.7 T415 193.8M412.5 45.2 Q421.2 42.8 425.1 41.6 T431.9 39.9 T440.2 38.3M490.4 122.9 Q485.9 126.2 483.1 132.5 T478.6 140.9 T472.1 143.1M455.5 128.7 Q460.9 129.3 465.2 127.8 T475.5 127.6 T486.6 125.7M394.5 127.9 Q389.2 124.6 388.3 119.5 T384.6 112.9 T378 112M450.4 92.6 Q447 88.5 441.6 88.1 T432.4 90.5 T428.1 98.3M460.3 127.3 Q450.7 127.6 445.4 127.5 T437 126 T428.2 128.6M492 59.7 Q498 53.3 501.9 53.3 T507.7 50.8 T511.3 44.8M527.1 14.4 Q527 20.3 524.4 26.4 T522.9 38.9 T527.4 48M412.1 147.5 Q406.3 157.7 400.9 160.9 T394.8 166.8 T394.3 175.7M481.9 73.2 Q472.1 81.3 472.7 87.3 T470.4 98.3 T469.2 108.5M483.2 33 Q477.5 27.6 471.2 25.1 T461.4 24.2 T452.1 28.6M471.9 160 Q460.1 167.4 457.5 172.1 T454 181.2 T452.1 188M490.8 19.7 Q500.8 12.6 507.6 13.3 T520 12.5 T529.2 14.3M482.9 79 Q493.7 86.4 495.9 90.3 T499.5 97.6 T501.5 104M462.9 82.2 Q451.8 85.9 445.6 83.3 T438.7 76.7 T432.2 70M427.8 12.5 Q435.8 19.1 436.6 25.9 T438.8 38.3 T445.3 47.8M461.4 150.7 Q455.7 147.2 454.7 144.1 T451.2 140.2 T445.6 141M487.9 142.3 Q482.5 150 480.9 154.5 T479.3 162 T478.2 169.9M437.7 166 Q441.7 154.6 442.1 152.1 T444.5 147.9 T448.3 140.2M489.6 37.9 Q490.2 32 490.1 26.5 T487.6 18.5 T481.2 11.6M471.6 91.2 Q477.3 89.5 479 87.1 T481.4 79 T486.6 69.7M481.8 90.5 Q475 79.7 470.9 76.9 T464.2 70.9 T456 67.2M453.4 112.8 Q462.3 107.8 463.6 104.2 T464.3 96.5 T462.9 89.5M528.2 112.7 Q521.1 100.7 521.5 97.8 T524.9 90.6 T532.4 85.9M513.3 186.6 Q514.8 177.9 516.3 174.5 T523.3 168 T529.9 160.5M451.1 128.2 Q443.1 120.7 441.7 115.4 T436.2 108 T429.6 102.9M526.9 11.6 Q523.6 2.2 521.3 -3.4 T517.5 -11.8 T515.3 -18.4M486.3 56.4 Q475.1 64.2 471 67.7 T466.6 75.7 T463.3 82.6M497.9 191.8 Q504 194.4 507.9 195.5 T516.2 195 T524 189.8M528.3 40.8 Q525.4 48.2 522.1 49.2 T515 49.5 T505.8 52.2M518.2 119.5 Q508 120.8 503.1 122.3 T495.4 123.3 T489.5 122.4M459.7 179.9 Q454.4 171.3 452.9 166.2 T445.8 157.7 T439.5 151.4M391.1 75.2 Q393.7 68.3 396.3 65.6 T398.1 57.5 T397.4 45.2M415.6 61 Q420 53.4 423.7 52 T429.9 47 T434.3 39.7M394.3 102.2 Q387.5 94.1 385.2 89.8 T382.8 83.1 T383 76.1M488.6 54.9 Q490.2 47.3 489.9 44.6 T490.4 38.5 T490.6 29.1M517.6 131.3 Q527.6 137.2 530.9 141.7 T536.8 147.1 T540.6 150.2M543.7 128.9 Q539.7 119.9 537.8 113.4 T534.2 103 T526.9 95.1M453.7 64.2 Q460.1 67.5 463.3 73.6 T467 82.9 T466.3 92.5M435 170.7 Q423.6 175.8 420.7 174.4 T412.4 175 T402.3 178.6M522.9 15.1 Q528.7 19.4 529.4 22.4 T531 27.7 T529.4 36.4M388.2 146.6 Q389.6 139.7 391.7 134.4 T392.7 126.6 T388.4 121M415.5 69.1 Q404.9 63.4 399.1 65.7 T392.5 72.5 T393.6 79.2M497.3 73.9 Q504.1 78.5 505.6 83.1 T507.2 93 T511 101.3M431.3 121.4 Q440.8 125.1 444 124.5 T452.8 121.8 T462.7 119.6M487.2 175.8 Q488.8 182.2 494.1 186.1 T505.8 190.8 T514.7 196.7M474.7 84.9 Q481.2 85 485.4 87.1 T492.2 88.8 T501.2 85.8M528.3 145.9 Q541.9 144.2 548.8 143.2 T557.2 140.1 T556.4 131.3M469.9 66.1 Q470.4 60.7 475.1 57.2 T484.6 50.4 T491 44.5M394.6 18.9 Q388.9 21.9 383.5 20.2 T374.2 14.4 T365.6 10.9M427.5 114.3 Q423.1 103.6 420.3 100.2 T418.1 90.6 T415.7 81M397.2 111.7 Q388.9 118.4 383 116.7 T376.2 112.4 T369.5 107.9M493.5 55 Q507.3 53.8 512.5 51.7 T522.1 52.2 T533.2 55.6M451 49.6 Q451.5 42.2 450.6 39.3 T444.6 32 T438.3 24M430.2 189.5 Q435.8 190.4 440.3 187.2 T446.6 181.8 T447.2 174.3M440.9 164.1 Q448.8 169.4 451 175.6 T453.2 187.8 T450.3 196.5M450.2 73.3 Q454.4 64.2 457.4 60.8 T461.8 54.7 T463.3 46.9M541.2 67.2 Q530.9 63.6 525.6 67.1 T519.5 74.9 T521.1 83.6" stroke="#2a2628" stroke-width="0.8" fill="none" opacity="0.8"/>
<path d="M465.6 39.9 Q469.6 45.7 469.8 49.2 T464.8 56.7 T453.9 61.8M547.2 78.2 Q556.3 71.3 560.8 72.9 T570 76.1 T577.1 80.2M469 132.1 Q475.2 124.1 477.4 120.4 T482 115.3 T487.9 108.6M434.4 84.6 Q442.2 86.2 445.9 92.1 T449.9 102.6 T453.9 113M408.2 107.4 Q405.2 113.7 405.9 116.9 T409.1 125.3 T412.6 132.9M468.8 147.1 Q471.7 155.1 470.2 159.1 T465.5 168.6 T462.6 181M438.2 12 Q432 23.6 431.6 28.4 T430 39.8 T431.8 50.6M483.2 66.2 Q473 69.4 469.8 68.8 T462.9 66.4 T456.5 65.2M546.9 24.7 Q558.4 20.1 562.9 20.8 T569.7 22.4 T575.6 26.2M449.7 97.5 Q450.7 91.8 451.4 87.1 T455.6 77 T464 69.3M500.6 43.5 Q492.5 51.1 490.2 57.5 T488 67.5 T486.1 73.7M469.1 49.8 Q469.4 43.4 468.7 39.1 T466.6 29.5 T465.7 18.7M431.6 40.2 Q436.3 28.8 441.7 27.1 T448.5 20.8 T446.9 12M472.7 13.4 Q478.2 21.7 483.8 24.3 T492.2 32.9 T494.3 41.3M399.7 87.7 Q410.6 86.9 414 83.6 T421.1 77.1 T428.9 70.1M450.4 184.8 Q455.4 185.8 460.7 185.2 T471.8 185.3 T480.6 187.2M474.4 160.5 Q474.5 165.7 475.5 170.7 T481.4 178.1 T489.4 180M508.3 183.6 Q515.1 192 517 194.4 T519.4 201.6 T525.6 209.6M434.3 75.2 Q422.8 81.9 421 84.4 T415.9 90.1 T409.5 93.8M422.3 170.7 Q416.8 175.3 412.6 177 T403.6 178.3 T395 178.5M528.6 51.2 Q536.5 48.2 539.2 50 T546.9 53.8 T555.5 55.5M487.5 36.4 Q478.5 26.5 475.2 25 T467.7 23.9 T457.8 21.5M536.4 11.9 Q539.3 23.9 538.3 27.1 T532.4 32.2 T523.3 32M455.8 106.7 Q461.8 118 462.9 123.2 T467.2 130.5 T470.5 136.1M415.2 6.1 Q416.9 -5.9 419 -10.9 T426.2 -20.6 T435.5 -25.8M404.5 129.8 Q407.8 120.1 407.6 115.2 T411.1 106.7 T414.5 100.4M465 169 Q456.4 169.2 452.6 166.6 T445.8 164.9 T439.6 170M445.3 99.7 Q448.3 107.7 448.6 113.9 T446 125.8 T439.2 133.7M497.7 143 Q508.1 139.4 514.3 136.3 T523.6 132.8 T530.3 129.6M400.6 175.1 Q394.5 174.1 388.8 170.7 T377.2 167.8 T365.6 164.1M505.5 144.8 Q517.2 147.2 520.2 152.3 T522.3 162.2 T522.3 171.1M451.4 141.6 Q449.8 150.6 450.9 155.8 T454.4 167.6 T462.5 177.2M470.5 171.2 Q467.4 159.4 463.1 154.4 T455.2 148.8 T448.4 150.3M439.8 179.3 Q431.2 178.3 428.6 180.7 T426.7 189.2 T431.5 197.8M461 116.8 Q449.1 120 445.1 122 T438.2 122.8 T432.9 116.8M406.3 98.4 Q409.8 88.6 407.4 84.8 T402.2 79.3 T399.1 74.1M411.7 23.1 Q401.2 26.1 397.7 26.8 T392.2 26.1 T388.9 21.1M485.2 92.1 Q479.1 103.2 474 104 T463.9 100.6 T456.8 92.9M399.8 14.9 Q403.3 6.3 406.2 4.5 T413.4 -1.5 T420.5 -7.7M456.1 151 Q463.6 159.7 465.9 162.1 T468.5 168.6 T466 175.5M447.9 120.1 Q435.4 115.5 430.7 114.3 T424.5 111.1 T420.6 107.8M459.6 77.3 Q469.6 84.8 476 87.2 T487 89.8 T497 94M455.5 90.7 Q463.3 100.3 467.1 101.4 T474.6 99.9 T484 93.2M416 150.1 Q414.2 163 417.8 166.5 T423.7 172.9 T427.1 180.2M430.9 179.7 Q422.2 181.2 416.4 181.8 T404 180.6 T394.6 176.6M512.8 108.1 Q507.2 113 501.9 114.6 T493.6 116.9 T486.5 113.5M521.9 89.9 Q523.7 77.8 526.9 74.3 T529.5 67.5 T526.7 61M446.3 177.4 Q438.7 181 433.6 181.3 T425.7 178.8 T416.1 176.3M525.9 95.9 Q515.9 88.5 513.5 86.1 T507.9 78.4 T502.3 70M397.8 67.9 Q406.5 62.5 408.5 59.3 T415.4 52.9 T421 46.4M472.3 46.2 Q469.8 41.2 465.9 36.8 T460.2 28.5 T455.2 23.5M407.1 46.9 Q410.7 54.9 414.3 57 T420.7 58.3 T429.2 57.1M462.6 25.4 Q456.2 21.7 454.8 18.3 T454 12.2 T453.3 7.1M535.9 37.8 Q529.6 40.4 525.6 45.7 T518.6 56.7 T511.1 65M430.8 153.5 Q429.8 144.2 433.1 140.4 T439.5 136.8 T445.4 136.2M511.4 184.4 Q502.8 174.4 503.5 171.3 T504.6 165 T507.5 157.3M482.8 144.7 Q471.9 140 467.2 137.9 T460.7 132.7 T454.8 126.8M516.4 27.7 Q526.7 28.7 531.4 24.8 T537.4 17 T540.2 6.6M531.2 140.7 Q541.2 131.4 543.6 130 T551.6 127.8 T563.5 129.5M514 163.1 Q502.7 162.4 498.2 163.1 T491.8 165.9 T484.5 169.5M484.9 78.6 Q497.1 72.4 501.4 73 T511.9 74.6 T522.5 81.1M460.3 193 Q467.1 184.4 470.6 183.4 T477.9 182.3 T485.1 184M394.6 189.5 Q394.4 202.3 393.5 207.1 T390.3 215.2 T389.8 224.3M448.5 147.7 Q459.7 148.3 465.8 147.9 T474.3 143.4 T479.1 136.7M423.7 38.7 Q437.1 35 440.5 31.7 T444.2 24.8 T445.3 17.7M499.5 42.8 Q499.6 33.8 497.4 32.3 T492.7 26.5 T487.9 19.3M424.7 119.2 Q415.3 110.6 409.3 111 T398.6 110.3 T392 106.1M526 102 Q530.6 92.8 528.9 88.8 T527.2 82.3 T522.5 75.3M463.7 182.3 Q463.4 175.8 466 173.7 T468.3 165.8 T467 157.1M534.1 28.4 Q539 23.2 541.2 16.7 T542.9 7 T543.1 -0M402 136.1 Q406.9 134 411.6 132.7 T421.5 127.7 T426.5 121.4M396.2 125.4 Q394.7 116.3 390.7 113.7 T380.2 109.8 T368 111M519.1 64.2 Q524.5 65.8 527.5 64.5 T532.9 62.6 T538.3 62.7M485.6 91.3 Q474.5 97.5 472.8 102.2 T467.9 110 T462.8 114.9M491.2 38.9 Q500.1 40 503.1 45.3 T504.1 56.7 T499.8 64.5M482.2 155.6 Q488.5 153.3 493.1 152.1 T499.7 148.7 T505.5 146.3M394.9 95.7 Q399.6 106.2 401.9 112.6 T406.6 122.2 T412.4 127.9M527.1 19.2 Q518.7 21.2 513.8 24.3 T503.3 31.1 T494.7 34.9M490.4 101.1 Q498.3 107.2 498.7 109.9 T499.1 115.5 T500.6 120.9M459.9 95.3 Q466.1 87.1 470.7 84.8 T478.4 78.4 T485.1 71.6M475.7 145.1 Q471.3 132 472.5 129.3 T476.5 125.9 T481.8 118.7M444.8 42.6 Q439.7 40.2 438.7 34 T434.1 25.3 T427.8 23.5M396.9 67.3 Q393.6 80.3 390 81.6 T383 83.8 T376.7 90.8M439.4 191.5 Q431.8 182.3 425.9 180.2 T418.8 175.4 T415.2 170M503.3 140.2 Q498.6 133.6 498.8 129.8 T496.8 121.2 T491.9 113.8M458.5 33.7 Q453.1 32.1 449 26.6 T440.1 19.6 T434.2 14.9M431.1 129.4 Q421.6 122.5 419.1 120.3 T411.7 117.1 T401 114.2M520.6 24.7 Q512.2 23.2 505.4 22.7 T494.3 22.8 T483.4 23.4M523.4 106.8 Q529.3 115.4 528 119.3 T522.5 124.8 T514.1 128M394.9 174 Q393 165 391.6 161 T388.6 154.8 T387.5 147.1M407.4 121.9 Q396.3 125 393.4 126.7 T389.8 135.1 T393 145M443.7 184.4 Q439.3 174.9 441 170.6 T442.5 163.6 T441.1 158.2M498.7 46 Q496.8 59.4 499.8 64.1 T503 75.6 T505.1 84.7M517.5 26.7 Q514.5 40.2 515.7 47 T514 58.4 T513.8 68.9M438.1 190.9 Q431.3 193.4 427.5 198.7 T421.7 205.7 T414.6 207.8M441 45 Q436.5 33.3 436.3 26.8 T437.6 17 T442.5 10M392.2 157.3 Q394.4 170.6 395.5 176.5 T397.8 185.5 T398.8 193.4M433.2 126 Q431.7 113 427.4 108.3 T418.4 100.8 T411.5 96M447.4 52.6 Q459 45.5 463.6 41.6 T470.7 37 T475.1 34.2M442.3 167.2 Q447.4 161 450.5 158.4 T457.1 154.1 T462.7 147.8M535.6 124.2 Q543.1 124.6 545.3 122.9 T547.9 118.5 T550.7 113M453 105.2 Q456 100.2 456 96 T455.4 89.2 T450.8 83.5M458.2 46.3 Q456.9 51.5 459.3 54.1 T460.6 63.5 T461.9 74.9M433.7 151.4 Q437.3 164 440.8 169.9 T444.1 180.9 T445 188.3M416.4 161.3 Q414.7 171.5 410.1 175.8 T399.8 183 T393.1 189.7M456.2 194 Q445.7 198.2 439.5 199.4 T430.5 205.6 T429.3 215.8M432.3 126.2 Q427.1 116 429.2 110.7 T432 102.4 T435.8 95.3M414.8 138.8 Q420.6 137.8 424.7 133.7 T431.4 129.6 T436.3 130.7M470.7 41.1 Q475.7 51.8 478.6 52.2 T486.8 49.1 T493.1 41.5M511.4 160.9 Q508.6 166.2 504.1 168.7 T493.5 169.2 T484 167.8M513.1 87.1 Q518.5 93.5 518.8 96.5 T514.8 104 T510.6 114.5M394 142.3 Q401.9 149.9 404.6 151.7 T408.8 157.6 T412.5 164.6M493.3 147.3 Q493.8 158.1 491.1 163 T487.2 172.3 T488 180.5M434.7 181.7 Q424.9 174.6 424.8 171.6 T428.7 164.6 T437.3 156.4M545.4 136.7 Q540.5 145.2 536.7 145.8 T528 151.4 T518.1 159.2M486.1 143.8 Q494.4 141.7 498.1 142.4 T505.3 139.5 T510.7 132.5M526.9 103.8 Q524.6 108.3 523.7 114.1 T524 126.5 T525.7 136M521.7 165.2 Q523.2 158.6 525.9 153.7 T529.5 146.1 T536.2 140.9M464.2 134.6 Q462.4 146.1 460 149.6 T453.2 155.5 T442.8 155.1M394.1 159.1 Q392.1 149.8 388.2 148.3 T381.7 143.2 T376.2 135.6M431.6 60.5 Q420.1 64.8 416.5 62.1 T408.7 60.6 T399.7 63.8M448.5 16.9 Q450.9 7.7 453.7 2 T457 -7.4 T459.9 -13M452.1 66.9 Q444.2 76.1 444.2 82.6 T442.5 91.7 T436.6 96.2M540.5 46.7 Q545.5 51.6 548.1 52.6 T555.8 49.9 T565 46.3M441.3 69.4 Q431.3 66.8 425.3 65 T414 67.1 T408.3 77.1M457.1 18.1 Q460.9 23.5 461.1 26.2 T461.5 32.5 T460.7 39.5M433.2 182.2 Q439.6 188 441.2 192.5 T446.9 201.1 T455 206M483.3 176.2 Q485.7 165.9 490.6 163.3 T496.5 157.7 T499.6 151.4M457.7 155.8 Q467.2 150.5 470 150.4 T476 150.3 T483 147.1M430.6 6.4 Q418.7 11.5 413.1 9.1 T402.5 8.3 T393.4 10M537.1 44.9 Q545.9 49.8 548 55.5 T547.8 67.2 T542.9 74.9M494.5 186.8 Q500.4 191.4 501.6 197.5 T504.8 205.2 T510.6 207.4M417.3 54.1 Q424.3 51.2 430.2 49.7 T441.4 46.4 T450.3 38.8M398.6 59.3 Q404 47.1 404.3 44.1 T407.4 38.4 T416.1 36.1M521.1 179.5 Q514.2 188.3 514.4 194.5 T516.6 207 T522.7 218M503.8 193.4 Q511.4 200.8 516.2 201.9 T523.6 204.4 T527.5 208.8M536.4 88.9 Q539.1 78.1 541.4 73.9 T546.6 65.3 T547.8 55.1M470.1 43.7 Q462.9 43.2 460.1 41.1 T452.7 39.2 T446.1 40.8M512.6 115.6 Q520.1 105.7 525.1 103.8 T534.6 99.4 T539.3 93.4M538 88.5 Q547.4 87.2 550.5 90 T554.2 97.6 T557.6 103.7M397.5 154.8 Q391.7 155 389 156.4 T383.1 157 T375.7 156.4M472.4 72.2 Q469.4 66.5 467.1 64.3 T461.9 58.9 T459.3 48.8M543 107.7 Q529.5 109.8 525.5 108.1 T517 104.4 T508.8 98.5M496 183.1 Q501.9 189.3 504.8 191.9 T507.9 197.6 T507.3 207.2M516.6 107.3 Q520 112.3 521.3 115 T525.6 120.8 T528 127M542.7 34.6 Q537.2 29.3 531.8 30.1 T520.9 30.2 T510.8 32.4M394.7 49.2 Q395.2 41.5 391.9 35.4 T382.9 27.4 T372.2 24.5M520.3 20.3 Q526.6 13 529.3 10.1 T533.6 4.6 T533.4 -3.1M527.2 132.7 Q528.6 119.7 530.1 115.8 T536.9 109.8 T544.9 107.4M484 139.2 Q491 145.2 491.3 151.4 T495.3 163.4 T502.8 173.4M401.5 4.1 Q414.4 8.5 416.7 10.7 T420.8 17 T426.6 24.9M402.4 108.2 Q415.8 111.3 419.3 113.2 T426.4 118.4 T430.8 124.9M444.8 28.8 Q443.7 34.7 446 36.9 T451.8 40.9 T458.2 42M464.8 45.9 Q469.9 36.1 469 31.5 T465.2 24.4 T462.4 16.2M465.8 167.1 Q473 171.6 478 175.2 T486.8 179.1 T493.7 178.5M535.7 154.1 Q546.8 146.9 549.7 148 T553.9 153.5 T557.1 163.8M418.6 109.6 Q416.2 98.6 417.2 93.7 T419.1 82.3 T417.9 72.6M508.1 100.9 Q513 108 511 114 T506.2 123.2 T499.3 127.3M409.2 94.8 Q413.3 101.8 415.8 106.5 T417.2 117.5 T412.6 129.6M521.3 146 Q530.1 145.8 532.8 144.2 T542.4 142.5 T554.5 145.7M432.4 143.1 Q431.5 136.4 430.2 133.3 T429.6 125.4 T430.5 116.2M483.5 79.9 Q477.8 79.7 472.6 80.5 T464.3 81.2 T458.4 82.1M505.5 17.4 Q500.7 26.1 498.2 28.7 T492.8 31.2 T484.8 30.1M438.1 5.4 Q433.5 -2.6 430.4 -4.8 T420.9 -7.6 T411.7 -8.3M501.2 85.2 Q500.7 91.9 500.9 97.4 T502.3 106.6 T506.5 115.6M482.7 48.8 Q484.8 55.1 481.7 61.2 T477.2 72 T476.9 79.1M425.5 178.5 Q428.5 170.6 428.1 167.9 T428.8 160.6 T428.6 151.2M462.9 63.1 Q466.5 58 467.5 53.6 T471.3 44 T476.9 38.1M456 72.6 Q460.1 61.7 465.7 59.6 T474.8 56.2 T479 52.2M407 130.9 Q399.8 130.6 396.4 132.7 T387.2 135.2 T376.3 139.9M452.8 12 Q458 19.3 460.4 21.2 T465.1 29 T467.7 39.3M452.1 37 Q458.1 36.6 460.5 34.7 T467 30.3 T477.4 25.9M545 150.6 Q532.8 146 530 146.7 T523.1 148.4 T515.3 147.3M524.5 11 Q519.6 16.1 514.1 16.4 T506.2 18.1 T501.3 20.5M462.3 85.7 Q465.5 92 464.9 95.1 T460.2 101.5 T454.5 108.5M393.8 153.7 Q394.6 159 394.9 162.1 T394.9 168 T399 175.5M510.9 94.2 Q507.7 87.3 507.7 82.9 T507.3 75.3 T505.5 69.4M532.2 5.8 Q530.1 18 530.4 23.6 T535.3 33.2 T542.5 38.4M426 78.1 Q417 81 414.5 83.1 T407.4 85 T399.2 83M477.5 173.6 Q477.6 160.2 480.3 156.6 T485.5 147.7 T491.5 141.5M538.1 189.2 Q541.1 195.2 544.9 199.6 T550.3 209.1 T555.4 216.6M394.4 8.1 Q397.1 20.4 402.1 24.2 T409.6 28.6 T414.6 31.4M543.2 74.5 Q535.5 66 530.7 61.7 T521.2 58.5 T514.1 57.6M440.1 63.1 Q446.2 69.4 449.2 71.4 T456.3 78 T461.7 89.1M460 85.3 Q457 75.2 457.9 68.5 T456.3 57.4 T454.2 49.3M448.6 181.5 Q456 173.4 461.6 171.6 T472 171.4 T481.9 175.5M483.9 33.9 Q489.9 43.1 494.6 44.1 T504.6 46.3 T516.7 47.3M391.9 136.1 Q398.7 134.9 403.6 134.4 T413.6 137.4 T425.5 142M524.2 86.8 Q517.2 96.1 512.2 95.9 T503.9 98.4 T495.5 104.9M464.5 24.7 Q471.6 33.2 475.9 32.8 T484.9 29.5 T491.9 22.7M483.8 137 Q480 145.1 477.5 148.9 T469.9 156.8 T462.8 165M439.3 105.2 Q429.6 102.3 425.7 103.5 T416.9 105.6 T407.3 104.8M476.1 103.8 Q482.6 95.5 487.7 93.6 T495.4 93.2 T500.4 95.9M439.9 143 Q447.7 148.9 454 150.5 T462.8 153.9 T467.8 154.7M512.3 42 Q511.3 53.8 508.2 56.1 T503.5 62.2 T498.8 67.3M484.8 36.7 Q480.4 45 478.5 47.5 T476.3 53.3 T474.5 61.5M472.8 143.3 Q477.8 143.6 482.7 145.7 T490.6 147.9 T497.5 149.8M511.8 12.6 Q516.1 23.7 513.1 28.5 T510.9 36.8 T517.6 42.7M490.6 108 Q499.9 101.8 503.4 101.7 T509.5 104.2 T514.7 107.7M488.7 78.5 Q497.4 67.6 502.2 67.2 T511.5 63.9 T516.2 56.9M394.4 135.4 Q400.5 132.8 402.8 130.1 T410.3 122.9 T422.3 117.1M437.2 152.5 Q445.2 147.1 447.6 142.6 T448.2 134.6 T448.7 126.6M435.3 11.1 Q446.8 8.9 449.3 9.5 T453.4 12.3 T459.9 17M426.9 20 Q417.7 21.5 411.9 22.7 T399.9 23.9 T387 22.6M455.4 136.6 Q450.9 142.3 447.9 147 T444.4 155.1 T445.9 162.9M419.4 9.2 Q407.4 5.9 401 4.6 T389.7 3.4 T380.2 3.9M440.1 135.2 Q451.2 127.6 457 124.2 T466.4 120.6 T475.9 119.8M472.6 148.8 Q474.3 154.4 472.5 156.9 T467.7 162.9 T462.1 166.8M435.3 160.5 Q432 170.3 428.5 172.8 T422.9 181.8 T418.5 194.1M535.9 191.4 Q531.4 201.9 526.8 203 T517.7 200.5 T507.4 194.2M419.3 121.6 Q417.4 133 413.1 138.1 T404.8 148.9 T395.6 156.4M456.4 170.5 Q446.2 171.1 443.4 173.9 T438.1 177.6 T431.7 179.3M496.9 95.1 Q509.7 95.7 515.9 96.9 T524.1 100 T529.5 103.2M520.3 88 Q523.5 92.8 527.1 93.2 T533.4 91.6 T539 85.5M472.2 139.3 Q466 150 464.4 153 T459.7 160.7 T455 168.6M468.4 129.3 Q473.2 120 479 116.9 T487.2 114.7 T495.4 117.2M543.4 187 Q550 186.9 553.6 185 T560.8 179.9 T566.1 174M404.2 141.4 Q401.3 153.7 397.7 156.8 T394.5 163.3 T394.4 170.4M483.7 185.8 Q484.9 199.5 485.1 205.1 T481.4 213.6 T476.8 220.4M471.7 179.9 Q477.9 184.4 479.1 190.6 T480.4 200.2 T485.1 208.5M507.1 100.8 Q499.7 101.3 497.3 100.3 T492.5 94.8 T492.5 86.3M388.9 126 Q385.5 138.1 384.2 141.6 T378.5 150.1 T372.4 160.5M513.1 52.5 Q514.6 58.6 516.1 60.7 T516.4 69.4 T512.3 82" stroke="#3a3436" stroke-width="0.8" fill="none" opacity="0.8"/>
<path d="M522.7 93.4 Q514 84.7 514 77.8 T509.5 67.9 T500.7 62.7M288 17.9 Q300 11.4 307 10.7 T321.3 5.1 T333.2 -6.2M455.1 154.7 Q449.6 144.6 451.4 138.8 T452.2 127.7 T454.3 117.3M592.9 170.8 Q597.9 179.5 601.4 181.5 T609.4 185.6 T619 185M428.9 158 Q441.8 161.6 446.5 167.2 T458.3 174.7 T470.4 173.1M483.5 125.1 Q483.8 143 483.4 149.4 T486.1 158.7 T491.1 168.1M432 120.1 Q440.4 115.1 444.5 108 T452.1 97.3 T462.4 91.6M468.3 -11.4 Q460.5 -4.6 458.9 -0.5 T454.2 7.1 T443.9 11.3M319.3 179.6 Q317.1 165.2 313.8 161.7 T304.6 158.8 T293.4 163.1M495.3 162.7 Q498.4 151.9 501.7 148.8 T508.1 142.7 T515 137.8M527.8 74.4 Q528.5 91.5 527.8 98.1 T525.9 110.2 T520.5 122.4M596.7 27 Q587.8 20.9 583.5 20.6 T576 15.9 T567.1 11.6M548.8 55.5 Q546.4 64.1 540.2 68.8 T528.7 76.7 T520.7 84.3M544.3 152.4 Q547.1 144.1 547.2 138.2 T552.4 127.7 T562.5 117.9M360.9 58 Q360.3 69.5 356.8 74.2 T346.4 78.7 T334.2 81.5M520.8 103.3 Q532.8 98.9 536.4 92.9 T544.4 83.8 T549.7 76M617 155.7 Q610.6 142.9 606.2 138.6 T600.2 129.5 T600.1 118.8M357.9 59.2 Q351.6 68.5 349.9 72.7 T351.1 81.7 T360.2 87.7M385.2 120.5 Q397.8 131.2 402.6 133.7 T413.5 141.4 T425 146.8M470.3 33.6 Q487.4 35.4 494.4 35.5 T506.4 35.9 T518 32.2M451.1 68.1 Q451.1 58.8 455.8 51.3 T467.7 42.3 T482.8 36.6M505.1 49.7 Q522.1 48.6 525.9 50.3 T535.1 56.5 T542.8 66.6M475.2 -19 Q484.2 -12.5 491.9 -14 T507.1 -18.1 T520.2 -22.3M456.2 160.9 Q460.4 153.3 463.5 150.6 T473.1 149 T485.4 149.9M217.8 50.9 Q209.5 42.4 203.2 37.7 T188.9 30 T175.1 20.3M432.9 139.8 Q421.6 137.2 417.4 140.5 T410.8 147.2 T402.9 153.1M324.2 46 Q315.3 43.9 311.3 42.6 T302.4 40.8 T294.3 43.2M629.4 87.5 Q633.4 100.3 632.7 105.4 T630.4 115.7 T631 126.8M390.3 78.3 Q395.4 89.1 399.7 92.6 T409.4 96.9 T421.2 100.9M549.5 99.9 Q537.7 94.2 533.9 91.4 T530.1 82 T534.1 71.7M435.1 119 Q428.1 108.1 426.7 100.6 T421.7 86.8 T421.3 73.6M550.9 13.9 Q555.7 6.1 564.1 4 T578.6 -0.9 T588 -8.1M376.4 51.7 Q374.1 62 371.9 69.9 T373.3 85.3 T380.5 98.3M528 40.6 Q523.3 56.9 517.8 60.1 T504.8 61 T491.5 63M637.3 137.3 Q625.9 128.6 625.8 123.3 T629 112.3 T633.2 100.9M440.5 98.7 Q445.5 86 444.3 82.1 T445.2 74.7 T444.6 64.4M472.4 205.7 Q458.7 198.5 457 194 T456.9 181.9 T457.9 170.3M628.3 42.8 Q612 48.3 604.9 49.8 T589.2 50.5 T577.2 43.4M610.8 -0.4 Q622.8 -9.3 626.9 -16.6 T634.2 -30.7 T633.9 -44.6M556 218.7 Q568.6 216.2 574.9 217.2 T588.6 215.7 T599.6 208.7M535.1 115 Q541.9 119.4 547.7 123.3 T555.4 133.4 T559.6 143.6M514.9 -1.2 Q528.2 -8.4 535.5 -13.4 T548.5 -23.3 T563 -29.7M439.8 49.2 Q436.4 34 435 25.8 T429.8 15.6 T417.8 12.5M464.6 90.9 Q452.8 96.6 447.1 99.4 T435.8 102 T425.1 101.5M514.9 27.7 Q502.1 19.9 499.8 15.7 T493.2 10.4 T483.8 10.2M458.7 72.6 Q444.4 73 438.2 72.8 T427.8 72.8 T415 72.4M495.6 31.4 Q495.2 14.5 493.8 6.4 T496.1 -5.6 T503.3 -14.5M338.1 -11.9 Q339.7 -21 343.1 -26.4 T352.3 -34.1 T362.8 -36.2M358.2 160.2 Q366.8 168.9 369.8 171.9 T371.6 182 T372.3 195.4M460 162 Q468 177.1 473.8 183.2 T484.6 194.5 T493.8 203.9M588.5 53.8 Q573.9 49.4 570.4 47.2 T566 40.5 T559.8 33.8M550.3 19.2 Q550.8 5.4 547.6 -2.2 T536.5 -13 T523.7 -19.1M453.1 177.7 Q447.6 171.7 448.4 166.7 T448.5 154.8 T450.9 139.8M364.7 34.5 Q368.2 49.5 374.6 52 T386.2 54.5 T400 56.8M442.6 106.3 Q437.4 113.2 439 120 T441.6 132.4 T444.8 143.2" stroke="#2a282e" stroke-width="0.6" fill="none" opacity="0.7"/>
<path d="M514.7 90 Q518.8 99 525.5 101.7 T540.7 105.1 T557 101.9M438 163.4 Q424.1 161.8 418.1 160.6 T406.4 155.9 T392.1 154.9M554 63 Q561.5 52.1 567.7 45.7 T580.1 37.3 T593.3 36.4M508.9 90.5 Q507.8 81.4 503.9 77.1 T495.5 73.1 T484.2 71.9M518.8 107.7 Q507.2 117.2 503.8 124.3 T501.6 139.4 T504.3 154.5M420.8 91.7 Q405.2 95.9 403.3 101.5 T398.7 111.1 T388 118.1M437.4 232.8 Q442.5 245 447.7 251.1 T457.1 262.1 T468 267.9M605 28 Q609 17.9 609.8 13.2 T610.4 3.4 T606.5 -7.7M391.1 147.7 Q396.1 139 402.9 133.6 T410.8 120 T414.5 108.3M485.8 46.6 Q488.3 55.9 486.2 62.3 T481.8 73 T472.7 81.1M416.9 84.8 Q403.7 81.5 400.4 77.4 T397.5 65.3 T394.8 51.6M514.9 91.8 Q501.1 87.1 493.9 90.7 T478.9 97.9 T467.5 104.3M423.7 2.1 Q420.1 -8.6 421.5 -14 T429.1 -24 T441.9 -31.1M624.7 133.1 Q613.7 139.1 612 142.8 T612.3 151.5 T613 164.4M422.3 196.8 Q419.1 188.6 416.9 184 T409.6 176.4 T396.4 176.3M571.9 -2.5 Q580.1 1.4 585.9 0.8 T596.2 -1.1 T606 -2.1M403.4 8.3 Q389.4 11.2 386.1 15.8 T383.2 24.6 T381.6 37.3M324.7 226.3 Q315.4 222.4 311.5 219.7 T307.6 212.8 T311.3 201.3M436.3 149 Q436.7 159.7 432.6 167.5 T428.3 179.7 T423.8 191.8M344 160.3 Q350.8 149.3 358.8 149.1 T371.9 145.8 T378.3 136.8M246.3 162.9 Q229.5 157.7 224.6 160.2 T216.9 166.5 T207 171.1M456.8 109.9 Q455.9 94.7 457.8 91 T463.7 83.6 T472.5 73.1M321.5 97.7 Q331.8 107.2 335.2 111.1 T342.7 115.2 T354.8 112.5M508.6 126.3 Q504 116.3 502.8 112.2 T502.9 100.2 T503 88.4M435.8 72.3 Q437.7 86.7 434.9 93.2 T424 102.2 T410.2 106.7M519.7 91.3 Q510.1 102.8 506.2 110.1 T498.8 124.6 T498.6 138M550.5 118.5 Q542.5 107.8 537.2 107.2 T528.1 102.4 T519.5 93.1M375.8 -28.7 Q381.6 -21.5 383 -15.7 T387.3 -6.5 T389 5.4M466.1 38.2 Q458.4 49 459.7 55.8 T464.9 64.2 T472.7 66M604.7 114.7 Q589.1 108 583.3 103.3 T575 91.3 T574.6 80.1M408.4 189.5 Q418 185.5 425.6 186 T437 183.8 T446.8 177.7M543.3 90.9 Q556.2 89.5 559.5 84.8 T566.6 78.8 T576.9 77.1M326.6 219.4 Q336 225.2 340 228.4 T349.6 234.2 T356.4 240.9M383.7 158.7 Q390.9 165.6 396.3 169.1 T407.3 177.1 T418.9 185.7M440.5 70.5 Q435.4 61.9 438.4 53.8 T448.4 43.6 T459.7 41.6M475.7 166.1 Q472.3 150 477 144.1 T479.9 132.1 T478.2 118.2M574.3 4.5 Q579 -4 579.9 -9.4 T579 -21.4 T573.6 -34.4M475.7 99.7 Q467.6 90.5 465.5 82.4 T458.4 69 T447.3 63.1M424.2 114.1 Q434.3 127.9 440.2 129 T452.6 127.5 T465.2 124.1M419.9 75.4 Q418 88.9 418.5 94.2 T423.3 107.4 T427.7 123.6M536.6 167.4 Q534.1 154.4 534.7 147.2 T532.9 136.5 T527 130.7M538.4 72.5 Q551.2 70.4 558.5 72.4 T572.1 71.1 T581.1 59.4M545.5 234.9 Q545.6 249 549.5 256.4 T551.9 269.6 T548.1 281.7M453.8 102.9 Q445.4 87.9 447.6 79.4 T448.6 65.5 T448.4 54.4M671.1 100.7 Q660.9 88.9 657.9 85.9 T647 83.1 T636.9 86.9" stroke="#3c3a42" stroke-width="0.6" fill="none" opacity="0.7"/>
<path d="M532.3 24.3 Q537.4 23.7 541.8 24.3 T548.9 27 T555.6 28.1M445.9 129 Q451.6 123.7 458.5 123.8 T467.1 126.5 T473.2 133.2M544 146.2 Q544.5 138.8 541.7 134.4 T533.7 129.5 T523.7 128.2M431 58.6 Q418.9 58 412.5 60.4 T404.5 68.7 T400.5 80.6M398.1 153.9 Q396.3 165 397.1 168.6 T394.6 176 T384.7 181.5M496.4 130.1 Q497 139.5 494.5 145.5 T492.5 158.2 T492.5 169.1M401.1 66.6 Q397.7 54.6 393.1 50.6 T387.6 43.6 T382.5 37.7M403.8 116.2 Q414 110.2 415.2 105.9 T413.2 97.1 T407 89.9M501.8 32.4 Q496.3 28 492.1 23.7 T483.3 17.2 T478.3 12M442 21.8 Q431.3 27.5 427.1 31 T419.4 39.1 T416 50.2M442.3 108.3 Q440.6 103.1 438.5 99.8 T436.5 93.5 T434.2 88.5M526.9 58.5 Q539.9 60.2 543.7 59.7 T552.6 62.5 T558.7 72.9M546.6 84.9 Q545.2 98.2 539.6 101.4 T532.3 110.1 T531.2 119.3M422.8 5.4 Q419.6 -2.7 421.8 -6.4 T423.6 -17 T426.6 -29.5M485.3 131.2 Q475.8 133.1 470 129.9 T458.3 123.5 T448.3 120.8M515.1 166 Q506.5 155.3 504.8 151.7 T503.7 144.7 T501.7 135.1M541.1 190.8 Q541.8 195.9 545.1 199.6 T551.7 204.3 T559.6 205.4M461.3 173.5 Q454.9 172.4 450.6 176.5 T442.3 181.4 T434.5 185.7M449.2 25.2 Q448.6 31.2 449.2 34.2 T452.6 40.8 T457.1 50M487.8 79.7 Q483 67.8 480.4 64 T475.4 54.5 T471.7 42.9M428.9 71.4 Q433.8 81 432 84.9 T431.8 94.1 T436 104.5M463.1 70.6 Q470.6 70.9 475 68.6 T481.2 64.2 T489.9 62.4M496.5 195 Q508.9 197.4 514.6 197.3 T522.9 197 T527.8 198.9M526.5 30 Q524.6 35.3 525.6 37.9 T529.8 43.7 T532.8 52.2M440.9 65.8 Q438.5 70.4 438.3 77 T441.7 86.8 T451.1 90.9M489.9 6.9 Q478.8 10.8 473.5 13.2 T464.9 19.1 T459.5 27.6M456.4 142.9 Q451.1 154.4 449.5 157.3 T449 165.9 T456.4 174.6M492 123.2 Q489.4 115.7 486.8 113.3 T480.7 107.5 T474.3 103.6M437.7 135.1 Q430.8 130.1 426.2 128.2 T420 123.6 T413.7 116.2M493.7 86.3 Q487.3 83 485.8 80.6 T482.1 75.8 T478.8 69.1M523.4 28.3 Q520 36.8 517.5 38.7 T511.9 41.8 T506.3 48M426.4 53.5 Q420.6 52.6 415.6 57 T411.4 67.2 T413.4 79.7M462.3 109 Q458.5 105.4 459.4 100.6 T463.6 92.2 T466.8 85.7M486.6 94.9 Q474.8 88.4 471.4 88.2 T461.8 87.9 T451.1 84.8M508.8 78.9 Q497.4 80 493.3 79.7 T484.4 79 T475.8 79.3M464.3 88.4 Q453 86.8 447.5 90.2 T440.9 100.3 T439.1 112.2M400.7 4.5 Q409.9 -1.3 416.4 1.1 T426.6 4.9 T435 9.5M456.5 22.3 Q463.5 19.1 468.8 17.1 T476 13.1 T482.8 6M422.8 75.3 Q418.1 84.3 420 89 T425.1 94.6 T434.1 96.8M525.8 156.8 Q532.8 167 537.6 170.4 T545.9 172.8 T554.2 169.6M443.1 62.5 Q443.1 69.4 444.1 72.4 T449.4 79.6 T460.1 86.2M411.9 185.9 Q406.5 174 403.5 173.2 T399 169.9 T398.1 162.2M454.2 130.1 Q455.1 139 453.2 142.5 T453 151 T458.2 158.6M526.9 100.8 Q531.6 94.2 537 91.5 T546.8 86.7 T555.2 82.4M446.5 18.6 Q457.3 26.7 462.5 26.6 T469.7 29.1 T476.4 32.7M494.4 162.8 Q484 161.4 478.8 163.4 T471.7 169.4 T467.9 176.1M406.7 120.8 Q415.6 112 420.9 112.8 T429.2 111.9 T437.6 108.3M501.4 148.6 Q508.2 147 510.9 143.9 T515.1 134.4 T519.3 123.8M479.6 141.5 Q482.1 136.4 484.1 133.8 T489.5 128.3 T498.5 123.2M440.1 181.8 Q445.6 182.6 449.3 182.5 T457.6 177.8 T467 172.5M495.1 119.9 Q500.2 119 505.3 119.3 T514.7 114.8 T523.9 107.3M497.9 64.3 Q490.7 67.3 486.2 64.5 T478.1 60.8 T472 54.3M442.8 155.5 Q432.5 160.3 428.9 166.1 T423 172.7 T416.1 173.7M509.4 58.1 Q504 48.8 499.3 47.1 T491 46.3 T486.1 50M412.1 101.1 Q417.2 92.4 421 90.5 T426.8 85.4 T429.8 77.7M489.6 120.4 Q484.6 122.4 480.2 122.4 T471.2 127.5 T464.9 134.3M468.6 13.4 Q464 22.2 459.1 22.8 T451.4 24.9 T445.4 29.6M458.5 88 Q465.7 89.7 468.2 89.9 T473.9 87.6 T480.3 80.4M404.7 35.8 Q406.1 45 408.6 47.9 T417 51.5 T426.5 54.2M414.5 68.2 Q421.4 63 425.1 59.3 T431.9 56 T437.8 61.3M492.6 77.6 Q491.8 71.7 493.9 66.9 T494.3 56 T494.5 47.1M478.4 164.4 Q478.8 157.6 482.2 155.7 T491.6 152 T499.3 148.2M505.1 35.1 Q499.6 43.6 495.1 44.9 T487.1 51 T481.7 59M434.8 146.1 Q442.9 143 445.2 137.2 T451.2 128.8 T455.2 120.7M397.7 192.5 Q403.8 194.3 409.2 197.3 T421.1 198.6 T430.5 197.2M406.7 18.9 Q417.2 23.9 423 23.8 T432.2 26.8 T438.3 29.6M410.4 86.9 Q415.6 82.2 415.9 75.9 T419.5 67.3 T425.9 62.3M484.6 110.9 Q488.8 114.1 490.9 119.5 T491.8 127.9 T489.1 136.7M408.2 110.7 Q397.5 104.1 393.6 100 T389.6 91.2 T386.1 84.1M418.8 45.3 Q407.3 52.2 403.3 50.9 T398.3 46.8 T394.8 38.2M522.7 147.8 Q515.9 146.6 511.2 141.8 T506.4 131.8 T504.8 122.2M546.1 156.7 Q548.4 148.6 548.4 145.6 T548.5 137.3 T547.1 129.1M433.8 152.8 Q423.7 146.9 423.5 142.3 T420.6 131.8 T417.3 120.9M413.6 86.8 Q419.1 82 423 76.4 T425.8 66.5 T420.2 60.2M522.8 186.4 Q523.9 177.8 521.5 171.9 T518.4 159.2 T514 146.9M403.9 111.3 Q414.5 117.2 417.4 118.9 T424.9 119.3 T432.5 116.7M528.7 94.9 Q523.8 89.8 520.4 85.7 T513.1 76.7 T509.4 67.3M398.3 43.2 Q389.7 49.3 389.8 53.1 T391.4 60.6 T393.3 68.7M418.9 136.5 Q427.8 133.6 433.3 136.9 T440.2 143 T442.7 149.4M544.6 163.2 Q536.8 153.7 531.2 154.4 T520.3 155.1 T513.1 157.8M546.1 129.4 Q537.8 126 535.8 119.8 T530.7 111.7 T525.6 105M388.7 161 Q379.2 164.4 373.6 165.6 T365.2 169.8 T358.5 176.2M453.4 32.4 Q464.1 24.5 464.4 20.4 T461.7 10.7 T456 3.2M404.1 5.7 Q408.1 12.4 407.1 17.6 T410.5 28 T421.6 34.5M475.2 19.2 Q482 19.2 485 20.9 T490.7 23.6 T495.4 28.2M412.5 140.6 Q417 133.2 421.7 129.6 T427.2 122.1 T429.9 114.5M419.1 172.1 Q413.7 175.3 407.4 175.5 T397.7 175.4 T391.4 169.7M410.6 17.2 Q418.4 24.4 421.9 25.4 T427.2 29 T430.8 34.4M531.1 121.5 Q534.3 130.6 537.5 136.8 T544.7 147.2 T550.9 152.7M464.4 100.9 Q474.6 98.3 477.1 95.7 T482.2 92.1 T489.3 92.9M429.7 30.9 Q436.8 20.9 441.2 20.7 T448.3 19.5 T456.1 15.3M546.8 81.7 Q546.8 69.6 549.9 64 T551.8 55.4 T548.5 49.8M417.3 142.7 Q408.9 134.3 408 128.6 T402.7 117.5 T394 111M527.5 69.1 Q539.1 74.3 541.9 80.5 T548.6 91.1 T555.9 99.1M389.9 56.6 Q382.8 53.4 378.2 55.6 T368.4 57.5 T360.9 55.8M396.3 170.7 Q393.7 162.3 388.3 159.3 T379.2 156.4 T372.9 158.7M488.9 168.8 Q477.5 166.3 475.1 163.4 T468.3 157.4 T461.1 154.8M455.8 13.1 Q465.2 8.8 469.5 8.8 T480.3 9.8 T489.3 11.6M545.6 180 Q543.5 185.3 541.8 187.6 T537.8 196.1 T531.6 206.3M515.2 147.8 Q508.1 155.6 503.1 158.9 T496.6 168.2 T490 178.2M488.3 163.7 Q493.3 155.8 493.1 149.2 T491.9 139.9 T488.7 134M514.4 67.4 Q523 65.9 527.3 69.2 T534.1 72.6 T539.4 70M481.9 149.8 Q489.6 149 492.9 148.8 T501.8 146.6 T512.3 141M496.8 88.2 Q497.8 93.6 498.7 96.5 T501 105.5 T498.1 117.1M424 4.4 Q436.9 1 443.2 -0.3 T454.6 2.5 T461.2 8.8M483.7 165.8 Q487.3 170.6 490.4 170.5 T496.3 170.4 T501.2 172.7M422.1 92.7 Q431.4 91.7 437.5 94.1 T448 99.4 T454.7 107.8" stroke="#b4b0b6" stroke-width="0.6" fill="none" opacity="0.75"/>
<path d="M536 186.1 Q536.6 175.8 536.2 171 T533.3 163.8 T527.9 159.5M432.9 117.3 Q433.7 127.1 430.8 130.6 T427.4 137.2 T425.8 143.2M390 46.7 Q379.1 38.8 376.6 37.3 T368.6 38.5 T360.8 42.4M462.6 41.8 Q468.7 45 473.3 43.5 T480.8 37.9 T487 32.6M426.1 60.7 Q416.1 60.9 409.9 60.5 T399.7 63.5 T393.1 71.3M427.7 186.7 Q435.8 192.4 440.8 192.9 T450.3 193.4 T457.1 194.7M529.3 107.4 Q522 96.7 523.1 93.8 T524.9 85.6 T528.8 78.6M466.6 71.3 Q466.3 77.7 467.7 81.9 T474.5 88 T483.1 90.8M417.1 88.5 Q414.7 102.1 414.5 104.6 T413 110.6 T408.5 116.9M536.5 85.3 Q542.9 75 542.4 72.5 T541.3 66.5 T541.5 56.9M479.1 113.8 Q482.5 108.6 486.2 107 T494.7 104.2 T503 105.5M431 143.2 Q437.1 131.7 441.4 129.3 T450.3 128 T456.9 130.9M471.8 54.1 Q475.9 48.5 475.7 43.5 T479.4 35.8 T486.5 28.1M503.2 4.6 Q498.3 6.3 494.8 8.2 T486.8 12.9 T481 21.9M397.7 177.9 Q401.6 173.4 408.3 174.4 T418.7 179.5 T425.2 186.2M469.3 159.6 Q478.3 153.2 478.1 148.5 T479.3 137.5 T477.6 128.3M438.4 97.6 Q436.2 86.4 434.5 81.6 T431.2 71.9 T425.2 63.9M435.6 123.5 Q449.6 123.4 453.4 125.3 T458.7 132 T459 140.6M423.6 7 Q425.3 19.1 424.3 23.9 T420.9 30.6 T412.2 32.7M496.6 88.1 Q502.1 87.4 504.2 83.9 T507.7 76 T508 68.3M496.6 162.5 Q494.3 156.1 495.3 152 T498.8 146.4 T506.2 146.8M395.2 19.8 Q385.8 23.4 380.1 24 T372 24.9 T363.9 28.5M488.2 94.2 Q476 90.6 471 91 T464.4 93.7 T458.8 96.8M528.2 16.1 Q531.3 22.3 532.7 26.9 T534.9 35.4 T533.5 42.5M389.4 146.5 Q380.4 144.3 377.4 143.8 T371.5 143.6 T362 145.3M420.6 22.9 Q413.6 23.9 409.3 21.1 T402.2 17.4 T395.3 12.7M491.3 127.8 Q494.9 120.9 494.6 117.8 T496.1 111.1 T498 102.6M492.1 106.5 Q484.3 116.6 478.8 118.1 T469.9 121.3 T462.5 121.1M532.6 184.3 Q532.7 190 531.3 194.1 T529.9 202.8 T532.3 212.9M497.9 162.4 Q507.1 164.6 510.2 162.3 T515.3 153.5 T519.5 144.8M532.9 7.3 Q524.6 10.2 518 10.6 T508.1 7.6 T500.3 4.8M510.5 161.1 Q501.3 164.7 495.9 161.3 T485.5 160.1 T473.8 162.1M436.1 193.9 Q442.6 202.7 441.2 206.8 T435.2 212.9 T425.5 216.4M542.9 75.4 Q535.1 77.2 531.1 79.8 T527.1 86.8 T525.4 96.1M495.1 102.8 Q488.7 96.3 489.1 93.3 T490.9 87.2 T495.3 82M537.7 28.6 Q535.9 37.9 536.7 44.8 T534 54.8 T524.9 58.3M482.3 21.8 Q483.1 14.4 482.6 10.8 T481.7 4.4 T477.1 -1.4M473.7 74.9 Q482.7 69.9 484.8 67.7 T487.8 62.3 T486 54M402.2 4.2 Q405.1 -4 406.7 -8.4 T404.9 -17.8 T402.7 -26.5M455.9 87.2 Q456.9 97.2 460.9 99.3 T467.1 107.5 T472.7 114.4M409.1 102 Q400.8 102.8 396.7 105.6 T389 109.1 T382.1 110.8M389 49.4 Q391 58.2 391 63.7 T389.9 73.9 T386.1 80.8M465.3 82.2 Q464.1 77.3 463.3 73 T461 65.7 T460.1 59.5M491.8 83.6 Q499.5 81.6 506.4 80.4 T516.5 80.2 T522.7 82M393.8 71.7 Q395 63.2 392.2 58.6 T384.6 53.5 T375.3 56.3M415.4 161.9 Q404.5 165.9 397.9 164.1 T386.6 159.5 T379.8 151.5M403 164.2 Q410 168 412.7 171.4 T419.9 177.3 T427.7 180.2M533 18.9 Q541 14.1 542.5 9.4 T541.3 -1.2 T541.7 -12.7M406.7 62.6 Q414.2 56.9 418 54.3 T426 47.1 T433.9 37.1M402.9 145.6 Q398.7 150.3 393.7 150 T383.3 150.6 T374.1 149M525.2 17.6 Q520.1 14.9 517.8 12.6 T508.6 10.6 T499 14.7M396.2 10.8 Q406.6 5.4 408.5 2.5 T413.4 -0.3 T418.3 1.6M435.2 139 Q436.6 151.1 440.8 153.4 T447 158.5 T448.4 165M509 43.3 Q512.5 34 511.1 28.1 T508.2 19.8 T503.7 15.8M515.3 105.2 Q508 101.9 506.5 98.5 T500.9 93 T494.4 87.2M426.7 107.8 Q432.9 112 436.1 113.5 T440.5 118.7 T438.8 127.1M545.8 138 Q556.7 139.4 560.8 136.6 T565.4 129.9 T569.4 123.5M398.5 178.2 Q402.1 170.4 403.5 166.1 T406.1 158.7 T404.4 149.4M410 24.2 Q414 29.6 419.6 29.8 T428.9 28.2 T436.1 25.1M522.3 76.9 Q514.3 77.7 510.5 73.8 T503.9 70.3 T497.2 70.5M528.3 59.9 Q518.2 67.7 517.8 72.8 T515.2 82.8 T509.6 90.2M463.9 17.7 Q474.6 20.3 478.3 21.4 T486.8 19.2 T493.7 12M546.2 45.7 Q536.8 55.2 532.1 56.5 T524.7 59.5 T519.9 66.2M397 96.8 Q406.2 102.1 412.9 103.4 T424.2 100.2 T432.3 96.5M519.4 148.2 Q514.4 153 510.5 154 T504.3 159.9 T498.6 169.4M468.2 163.8 Q462.6 166.8 460.2 167.7 T454.1 168.3 T447.9 166.6M533.6 11.8 Q526.2 11.5 523.6 14 T517.8 17 T508.5 19.5M454.1 110.7 Q442.1 106.9 438.7 104 T435.2 97.2 T434.6 90.5M525.2 30.4 Q532.1 41.2 536.8 44.8 T547.2 46.6 T554.7 41.3M417.1 136.4 Q413.3 143.8 411.7 150 T409.9 159.5 T408.5 165.4M529.8 163.5 Q536.7 166.6 542.4 163.4 T550.9 161.1 T557.3 160.7M491.9 178.6 Q484.9 177.4 482.8 179 T479.9 186.1 T477.5 195.3M542.1 181.6 Q538.6 175.6 537.5 173.2 T529.8 169.4 T518.5 168.9M474.6 88.4 Q465.3 81.4 461.7 78.3 T452.5 76.3 T444.1 81.3M537.2 17.6 Q534.3 27.6 534.3 31.3 T534.9 38.4 T533.8 45.7M486.9 152.6 Q485.2 144 483.3 141.8 T475.2 140.2 T466.4 141.4M536.8 78.8 Q529.9 90.4 527.4 96.3 T519.2 105.6 T511.3 112.6M398 24 Q396.4 29.8 393 34.1 T385.5 40.7 T377.8 46.9M495.2 175.4 Q490 169.2 486.7 168.6 T480 167.6 T473.2 166.5M398.3 22.8 Q395.5 12.6 396.9 6.3 T399.1 -4.5 T400.1 -13.9M406.9 97.9 Q416.1 102.9 419.1 105.5 T424.8 108.1 T431.5 105.6M395.1 100.7 Q400 108.6 401.4 111 T405.8 114 T412.5 113.6M427.8 124.1 Q431.1 135.4 428.8 139.3 T421.7 145.7 T411.9 152.3M412.9 53.4 Q406.8 43.1 402.2 41.5 T394.9 40.7 T386.6 37.7M405.8 172.7 Q411.4 173.7 414.1 175 T421.9 175.6 T431.9 178.1M431.5 162.5 Q434.7 174 436.4 176.6 T441.2 182.3 T448.3 189.9M396.8 61.9 Q392.9 67 394.1 72.4 T394.5 80.6 T388.8 88.1M432.1 9.7 Q426 13.9 420.8 16.6 T412.7 23.1 T404.7 31.1M503.8 140.9 Q507.3 134.8 506 130.2 T507.4 120.8 T513.1 115.5M468.7 32.5 Q476.5 21 480.8 19.4 T489.2 15.8 T496 11.2" stroke="#cfcad0" stroke-width="0.6" fill="none" opacity="0.75"/>
<path d="M487.4 190.4 Q479.5 193.2 474.2 194.3 T466.4 196.9 T459.3 201.8M514.6 133.7 Q514.1 143.5 512.2 148 T508.8 154.9 T505.2 161.9M426.1 108.7 Q438.9 104.4 442.7 98.7 T445.1 88.7 T437.9 82.7M414.4 6.3 Q417.7 -1.8 416.2 -6.9 T415.7 -14.6 T422.9 -19.3M391.8 187.7 Q389.4 175.8 384.4 173.5 T375.3 165.8 T368.5 157.8M498.2 107.5 Q491.2 104.5 490.1 101.8 T491.5 93.2 T496.1 81.7M461.1 83.1 Q454 73.1 448.1 69.9 T439.6 67.2 T432.4 64.5M389.2 11.1 Q382.8 1.1 380.8 -3 T377.2 -9.5 T370.7 -13.5M522 21.4 Q518.9 10.7 517.1 8.5 T516 0.9 T513.2 -10.5M417.2 7.7 Q405.6 7.9 400 8.4 T388.3 8.6 T378.4 5M404.4 9.6 Q404.7 16.6 399.3 21 T390.5 26 T380.3 26.5M446.6 187.4 Q458.8 185.1 462.6 183.5 T468.9 180.9 T476.1 182.1M503.2 187.8 Q498.3 182.2 494.5 176.3 T489 164.3 T482.7 154.4M486.2 86.2 Q478.5 80.2 474.7 76.7 T471.1 67.2 T473.6 58.3M505.8 33.3 Q496.5 26 494.1 24.6 T491.2 19.5 T492 11.5M391.8 168.8 Q395 163.8 400.1 160.7 T411.7 155.7 T422.7 156.7M411 61.3 Q397.8 58.1 393.2 55.6 T383.6 48.4 T373.6 40.8M494.4 166.6 Q500.4 175.2 506.8 178 T519.4 182.5 T528.5 183.4M524.3 150.4 Q531.8 149.4 537.7 148.7 T548.8 150.5 T556.7 158.7M451.4 129.2 Q459.5 127.8 464.5 129.8 T472.4 135.8 T480.9 141.1M394 172.6 Q380.7 176.7 374.9 177.4 T365.8 176.4 T359.7 173.1M399.9 66.8 Q392.6 62.1 391.9 57.1 T393.3 49.5 T395.7 41.3M402.4 113 Q410.8 111.8 414.4 106.8 T420.5 101.4 T426.1 102.5M449.5 139.5 Q462.9 138.3 465.4 136.2 T468.7 129.4 T472.5 121.6M481 110.8 Q472.1 102.4 470.3 96.5 T466.7 86 T460.5 80M515.3 111.1 Q513.7 118 514.1 121.2 T517.8 129.9 T524.8 137.1M449.5 82.9 Q443.9 73 444.5 66.4 T441.1 54 T435.5 46M391.5 126.6 Q380.2 123.1 376.6 124 T371 127.9 T364.6 132.3M388.6 40.6 Q383.1 41.9 379.1 45.9 T374.8 52.6 T374.1 58.1M503.7 55.2 Q502.1 42.7 501.5 36.1 T501.9 26.2 T504.7 19.9M473.1 192 Q473.5 185 476.2 179.3 T476.9 170.3 T468.1 166.6M404.6 100.7 Q393.8 106.5 392.2 112.5 T391.4 123.1 T392.5 131.9M441 195.4 Q433.7 198.2 429.5 196.4 T424.1 191.7 T420.5 185.6M525.6 119 Q519.8 109.4 516.6 108.2 T507.9 107.4 T497.9 108.9M498.7 148.4 Q497.6 157.7 499.7 161 T499.4 170.1 T492.5 177.5M413.6 92.6 Q420.1 91.4 423.3 91.1 T431.9 94.5 T439.7 97.9M390.3 159.6 Q391.7 172.1 387.8 175.4 T384 182.5 T385 191.8M451.2 71.7 Q446.1 82 446.9 84.4 T449.3 89.6 T452 95.4M485.1 135.7 Q496.7 139.8 500 141.9 T508.6 142 T516.8 140.2M390.1 41.7 Q387.8 36.8 384.1 35.3 T375 35.4 T363.8 33.9M392 181.8 Q384.2 176.4 383.3 171.9 T381.7 161.3 T376.4 151M399.7 9.2 Q402.1 4.6 404.8 0.9 T406.7 -6.4 T404.2 -13.3M471.3 25.3 Q478.2 31.9 482.5 32.2 T489.5 35.6 T496.5 40.5M437.8 134.3 Q429 124.2 426.9 120.9 T418.9 114 T410.2 111.5M522.9 182.3 Q528.9 179.9 530.7 174.7 T536.3 164.8 T539.3 156M446.5 25.2 Q436.1 21.3 431.6 23.1 T422.5 27.6 T416.7 36.2M480.8 73.8 Q472.1 72.7 470.1 70.1 T466.6 64.6 T461.7 60.2M515.9 7.4 Q510 8 505.5 3.5 T496.5 -4.5 T491.3 -10.5M481.7 143.8 Q483.3 149.2 482.4 152.6 T481 158.5 T477.4 165.9M393.9 41.7 Q390.5 51.2 392.1 53.8 T392.2 59.4 T386.7 63.2M456.7 17 Q453.2 22.2 448.1 22.8 T439.1 22.4 T431.1 15.9M456.9 161.7 Q450.3 156.1 448.7 154.2 T441 150.8 T432.5 145M440.5 53.2 Q440 65 437.4 68.4 T430.8 73.8 T423.3 76M414 139.8 Q406.3 134.3 405.5 131.8 T402.2 127.8 T396.5 125.9M513.1 43.8 Q524.7 36.5 531.2 34.9 T542.9 30.4 T554.1 25.9M493 181.7 Q487.1 190.3 485.9 192.7 T487.6 199.7 T493 209.6M525.8 156.8 Q520.9 159.9 517.5 161 T511.6 160.3 T503 160.7M488.9 128.1 Q491.7 138.2 497 140.4 T507.5 142.9 T514.6 140.7M467.8 158.8 Q477.4 151.3 483.1 149.6 T492.6 147.8 T501.5 146.8M514.9 41.2 Q514.7 31.5 511.5 29 T507 22.4 T505.5 15.8M434.7 10 Q444.6 15 451.1 13.8 T460.8 10.8 T466.9 4.5M431.3 81.4 Q436.2 83.7 442.3 87.1 T452.7 90.8 T461.2 92.7M540.6 161.7 Q538 170.8 538.7 174.9 T538.9 182.4 T532.9 189.3M406.8 23.8 Q414.7 17.5 418.8 14.9 T425.7 12.4 T431.3 10.8M466.9 139.6 Q457 146.4 452.1 151.4 T441.4 155.4 T428.9 155.4M522.7 113.5 Q529.7 112.8 532.9 108.6 T542.2 103.2 T551.7 103.5M421.9 128.6 Q429.4 121.5 435.8 120.8 T447.2 119.1 T454.2 115.8M462.1 7.9 Q468.2 8.5 470.7 5.9 T477.1 -0.6 T481.5 -8.9M463.4 163.6 Q468.7 155.9 473.7 155.1 T482.7 155.1 T491 158.3M447.8 105.8 Q443.4 93.1 442.7 86.5 T438.5 76.6 T432.4 70.6M408.2 89.2 Q398.5 83.4 394.5 83.9 T388.2 86 T382.6 86.6M545.3 139.1 Q536.2 144.8 535.2 149.5 T532.8 157.8 T530.6 166.8M427.4 115.3 Q423.4 110.4 424.7 106.2 T424.4 99.4 T422.4 92.4M529.3 29.5 Q533 37.9 533 42.3 T532.8 50.2 T532.2 56.6M540.4 164.2 Q549.1 165.2 552.5 169.7 T560.2 177.9 T564.5 184.3M423.9 125.4 Q415.8 116.1 410.8 112.6 T405 105.8 T407 98.2M487.6 14.9 Q483.2 1.8 485.9 -1.6 T490.8 -6.9 T495.7 -8.2M546.2 141.4 Q533.2 143.1 530.8 147.8 T529.3 155.5 T531.1 162.6M437.2 88.2 Q446.8 83.6 451.4 85.4 T458.4 91.1 T460.2 99.3M539.5 130.1 Q530.8 121.2 525.3 118 T513.9 113.2 T505 111.3M483.1 65.9 Q485.5 52.6 484.6 47.3 T481 37.9 T473.4 32M411.7 108.3 Q420 113.9 426.7 114.4 T439 113.5 T447.4 109.1M524.5 184 Q518.3 178.3 515.5 175.1 T507.7 168.1 T500.8 160.2M532.5 94.6 Q532.5 84.3 531.6 80.8 T532.6 73.3 T534.9 66M510.9 113.8 Q515.6 119.1 518 124.3 T520.8 133.3 T519.8 141.8M399.3 105.2 Q395.2 99.2 396.6 93.4 T395.8 84.7 T390.8 78.3M395.6 99.9 Q405.9 107.2 409.1 111.7 T412.1 119.2 T411.9 126.5M465.7 185.6 Q477.2 189.7 483.4 187.9 T495.9 186.1 T506.6 188.5M459 66.3 Q464.5 68.4 465.5 71 T464.7 76.4 T459.6 84.2M393.8 104.9 Q390.2 101.4 384.1 99 T374.3 95.1 T364.5 96.3M514.4 138.5 Q518.4 135.3 518.8 128.5 T522 116.8 T522.5 106.2M508.8 111.5 Q497.6 114.8 493.8 113.8 T486.6 108.8 T484.1 97.9M481.2 77.9 Q478 67.7 473.1 64 T464.8 57.7 T461.2 51.1M546.3 36 Q547 49.2 552 52.9 T559.5 56.1 T567.3 57.1M491.4 124.1 Q499.2 129 501.7 128.4 T506.6 126.8 T514.9 126.8M475.4 115 Q484.2 119.9 487.1 124.3 T489.5 131.4 T484.5 138.2M524 28.5 Q516.1 21.3 511.1 18.7 T505.5 11.9 T503.6 2.9M541.7 184.3 Q535.8 172.7 537.4 169.7 T540.1 163.4 T543.3 158.5M512.9 96.8 Q523.7 100.3 530.1 101.1 T539.7 104 T549.1 109.1M533.9 122 Q526.3 121.9 521.5 122.1 T513 118.2 T506.1 112.6M408.9 81.2 Q398.4 78.6 392.5 81.4 T383.3 83.3 T373.7 83M441.7 147.9 Q433.4 148.2 430.8 147.3 T425.2 145.4 T416.4 140.7M434.4 170.3 Q446.9 165.8 453.4 165.6 T465.9 165.4 T476.4 168" stroke="#9aa6a0" stroke-width="0.6" fill="none" opacity="0.75"/>
<path d="M521 42.2 C521.2 45.2 522.3 53.4 522 60 C521.7 66.6 520.7 76.2 519 82 C517.3 87.8 513.2 92.8 512 95M472.7 112.8 C474.6 115 480.9 122.8 483.8 126.1 C486.8 129.4 487.7 130.4 490.4 132.7 C493.1 135 495.9 137.1 500 140 C504.1 142.9 512.5 148.3 515 150M344 80 C347.5 80 359 80 365 80 C371 80 373.8 79 380 79.7 C386.2 80.4 395.3 83.7 402 84.2 C408.7 84.8 417 83.2 420 83M404.3 59.9 C406.9 60.2 414.9 60.3 420 62 C425.1 63.7 431.7 67.2 435 70 C438.3 72.8 438.8 77.2 439.6 78.6M360 140 C362.5 141.7 369.7 146.7 375 150 C380.3 153.3 387 157.3 392 160 C397 162.7 402.8 165 405 166M498 120 C500.3 119.7 506.7 119.7 512 118 C517.3 116.3 524 113.7 530 110 C536 106.3 545 98.3 548 96M420 150 C420.8 152.5 423.3 160 425 165 C426.7 170 429.5 174.7 430 180 C430.5 185.3 428.3 194.2 428 197M540 150 C542 151.7 548.7 155.8 552 160 C555.3 164.2 558.7 172.5 560 175M355 25 C356.7 26.7 361.2 32.5 365 35 C368.8 37.5 375.8 39.2 378 40M470 10 C469.3 12.5 467.3 20 466 25 C464.7 30 463.8 35 462 40 C460.2 45 456.2 52.5 455 55" stroke="#ded8e0" stroke-width="1.1" fill="none" opacity="0.85"/>
<path d="M386 4 C386.5 7 387.8 16 389 22 C390.2 28 391.4 35.2 393.2 40 C395 44.8 398 47.7 399.9 51 C401.8 54.3 402.3 57.7 404.3 59.9 C406.3 62.1 410.7 63.3 412 64M439.6 78.6 C440.7 80.3 444 85.8 446.2 88.6 C448.4 91.4 449.9 93.4 452.8 95.2 C455.8 97 460.6 99.2 463.9 99.6 C467.2 100 469.8 98.5 472.7 97.4 C475.6 96.3 477.8 94.1 481.5 93 C485.2 91.9 489.7 91.3 494.8 90.8 C499.9 90.2 509.5 89.9 512.4 89.7M472.7 97.4 C473.8 95.9 476.7 91.5 479.3 88.6 C481.9 85.6 485.2 83.8 488.2 79.7 C491.1 75.7 493 69.1 497 64.3 C501 59.5 508 55 512.4 51 C516.8 47 519.7 44.8 523.5 40 C527.3 35.2 530.9 27.7 535 22 C539.1 16.3 545.8 8.7 548 6M463.9 99.6 C464.6 100.3 466.8 101.8 468.3 104 C469.8 106.2 472.7 110.2 472.7 112.8 C472.7 115.4 470.5 117.3 468.3 119.5 C466.1 121.7 462.1 123.5 459.5 126.1 C456.9 128.7 455.4 133.1 452.8 134.9 C450.2 136.7 445.8 134.5 444 137.1 C442.2 139.7 441.8 145.2 441.8 150.4 C441.8 155.6 443.1 161.4 444 168 C444.9 174.6 446.5 186.3 447 190M468.3 119.5 C464.6 121 453.6 127 446.2 128.3 C438.8 129.6 430.4 127.6 424.2 127.2 C417.9 126.8 413.9 126.6 408.7 126.1 C403.5 125.5 396.1 121.7 393.2 123.9 C390.2 126.1 391 131.6 391 139.3 C391 147 392 160.6 393.2 170 C394.4 179.4 397.2 191.7 398 196" stroke="#eee9f0" stroke-width="2.4" fill="none" opacity="0.92" stroke-linejoin="round"/>
<rect x="344" y="4.3" width="26" height="27.5" fill="#fff"/>
</g>
<rect x="35" y="220.5" width="194" height="155.5" fill="#d7d7fd"/>
<path d="M34.8 219.5 V376.7" fill="none" stroke="#14143a" stroke-width="2"/>
<path d="M33.8 375.9 H229.5" fill="none" stroke="#14143a" stroke-width="1.6"/>
<path d="M34.8 228.2 h3.4M34.8 256.1 h3.4M34.8 284 h3.4M34.8 311.9 h3.4M34.8 339.8 h3.4M34.8 367.7 h3.4M53.5 375.9 v-3.6M92.7 375.9 v-3.6M131.9 375.9 v-3.6M171.1 375.9 v-3.6M210.3 375.9 v-3.6" stroke="#14143a" stroke-width="1.7" fill="none"/>
<path d="M34.8 242.1 h2.2M34.8 270 h2.2M34.8 297.9 h2.2M34.8 325.8 h2.2M34.8 353.8 h2.2M73.1 375.9 v-2.2M112.3 375.9 v-2.2M151.5 375.9 v-2.2M190.7 375.9 v-2.2M229.9 375.9 v-2.2" stroke="#14143a" stroke-width="1.6" fill="none"/>
<text x="31" y="232" text-anchor="end" fill="#262626" font-size="10.6" stroke="#262626" stroke-width="0.35">45</text>
<text x="31" y="259.9" text-anchor="end" fill="#262626" font-size="10.6" stroke="#262626" stroke-width="0.35">30</text>
<text x="31" y="287.8" text-anchor="end" fill="#262626" font-size="10.6" stroke="#262626" stroke-width="0.35">15</text>
<text x="31" y="315.7" text-anchor="end" fill="#262626" font-size="10.6" stroke="#262626" stroke-width="0.35">0</text>
<text x="31" y="343.6" text-anchor="end" fill="#262626" font-size="10.6" stroke="#262626" stroke-width="0.35">-15</text>
<text x="31" y="371.5" text-anchor="end" fill="#262626" font-size="10.6" stroke="#262626" stroke-width="0.35">-30</text>
<text x="53.5" y="388.6" text-anchor="middle" fill="#262626" font-size="10.6" stroke="#262626" stroke-width="0.35">-1</text>
<text x="92.7" y="388.6" text-anchor="middle" fill="#262626" font-size="10.6" stroke="#262626" stroke-width="0.35">-0.5</text>
<text x="131.9" y="388.6" text-anchor="middle" fill="#262626" font-size="10.6" stroke="#262626" stroke-width="0.35">0</text>
<text x="171.1" y="388.6" text-anchor="middle" fill="#262626" font-size="10.6" stroke="#262626" stroke-width="0.35">0.5</text>
<text x="210.3" y="388.6" text-anchor="middle" fill="#262626" font-size="10.6" stroke="#262626" stroke-width="0.35">1</text>
<text x="132" y="403" text-anchor="middle" fill="#262626" font-size="10.6" stroke="#262626" stroke-width="0.35">Input Bias (V)</text>
<text transform="translate(9.8 304.5) rotate(-90)" text-anchor="middle" fill="#262626" font-size="10.6" stroke="#262626" stroke-width="0.35">Current (uA)</text>
<text x="0.6" y="232" font-size="11.6" fill="#1a1a1a" stroke="#1a1a1a" stroke-width="0.3">(b)</text>
<g fill="none" stroke="#1a1aff" stroke-width="1.7" stroke-linejoin="round">
<path d="M53.8 373.8 C56.3 371.7 62.9 366.4 69.1 361.4 C75.3 356.4 83.7 349.5 91 343.9 C98.3 338.3 106 333.4 112.9 327.9 C119.8 322.4 127 317.1 132.5 311 C138.1 304.9 142.3 296.8 146.2 291.2 C150.1 285.6 152.4 282.5 155.9 277.4 C159.4 272.3 163.5 266.1 167.3 260.4 C171.1 254.7 175.1 248.1 178.6 243.4 C182.1 238.7 185.3 235.2 188.3 232 C191.3 228.8 194.1 226.2 196.5 224.4 C198.9 222.7 201.2 221.8 202.9 221.5 C204.7 221.2 205.9 221.5 207 222.3 C208.1 223.1 209 224.6 209.6 226.3 C210.2 228.1 210.5 230.6 210.5 232.8 C210.5 235 210.1 237.1 209.4 239.3 C208.7 241.5 207.5 243.8 206.2 245.8 C204.8 247.8 203.2 249.6 201.3 251.5 C199.4 253.4 197.8 254.9 194.8 257.5 C191.8 260.1 187.6 263.4 183.5 266.9 C179.4 270.3 175.4 274.1 170.5 278.2 C165.6 282.2 158.9 287.4 154.3 291.2 C149.7 295 146.7 297.5 143 300.9 C139.3 304.3 135.1 307.7 132 311.5 C128.9 315.3 128.2 319.3 124.5 323.5 C120.8 327.7 115.6 332 110 336.6 C104.4 341.2 97.8 346.6 91 351.2 C84.2 355.8 75.4 360.5 69.2 364.3 C63 368.1 56.4 372.2 53.8 373.8"/>
<path d="M55 372.6 C57.5 370.7 63.7 365.9 69.8 361 C75.9 356.1 84.3 348.9 91.5 343.3 C98.7 337.7 106.2 332.7 113 327.3 C119.8 321.9 128.1 315.1 132.5 311 C136.9 306.9 136.6 306.4 139.7 302.5 C142.8 298.6 147.3 292.8 151.1 287.9 C154.9 283 159.2 277.4 162.4 273.3 C165.6 269.2 167.8 266.8 170.5 263.6 C173.2 260.4 175.9 257 178.6 253.9 C181.3 250.8 184 248 186.7 245 C189.4 242 192.4 238.7 194.8 236.1 C197.2 233.5 199.4 231.4 201.3 229.6 C203.2 227.8 204.8 226.3 206.2 225.5 C207.5 224.7 208.6 224.1 209.4 224.7 C210.2 225.3 210.7 227.1 211 229 C211.3 230.9 211.2 233.9 211 236 C210.8 238.1 210.5 239.7 209.8 241.5 C209.1 243.3 208.1 245.2 206.8 247 C205.5 248.8 203.7 250.7 201.8 252.6 C199.9 254.5 198.3 256 195.3 258.6 C192.3 261.2 188.1 264.6 184 268 C179.9 271.4 175.9 275.2 171 279.2 C166.1 283.2 159.4 288.4 154.8 292.2 C150.2 296 147.1 298.7 143.5 301.9 C139.9 305.1 136.1 308.1 133 311.5 C129.9 314.9 128.7 318.6 125 322.6 C121.3 326.6 116.2 331.1 110.6 335.7 C105 340.3 98.4 345.8 91.6 350.4 C84.8 355 75.9 359.7 69.8 363.4 C63.7 367.1 57.5 371.1 55 372.6"/>
</g>
<rect x="276.5" y="220.5" width="194.5" height="154.7" fill="#e6fae2"/>
<path d="M275.6 219.5 V375.9" fill="none" stroke="#1a2e1a" stroke-width="2"/>
<path d="M274.6 375.1 H471.5" fill="none" stroke="#1a2e1a" stroke-width="1.6"/>
<path d="M275.6 224.8 h3.4M275.6 254.8 h3.4M275.6 284.8 h3.4M275.6 314.8 h3.4M275.6 344.8 h3.4M275.6 374.8 h3.4M289.8 375.1 v-3.6M317.6 375.1 v-3.6M345.4 375.1 v-3.6M373.2 375.1 v-3.6M401 375.1 v-3.6M428.8 375.1 v-3.6M456.6 375.1 v-3.6" stroke="#1a2e1a" stroke-width="1.7" fill="none"/>
<path d="M275.6 239.8 h2.2M275.6 269.8 h2.2M275.6 299.8 h2.2M275.6 329.8 h2.2M275.6 359.8 h2.2M303.7 375.1 v-2.2M331.5 375.1 v-2.2M359.3 375.1 v-2.2M387.1 375.1 v-2.2M414.9 375.1 v-2.2M442.7 375.1 v-2.2M470.5 375.1 v-2.2" stroke="#1a2e1a" stroke-width="1.6" fill="none"/>
<text x="272" y="228.6" text-anchor="end" fill="#262626" font-size="10.6" stroke="#262626" stroke-width="0.35">0.8</text>
<text x="272" y="258.6" text-anchor="end" fill="#262626" font-size="10.6" stroke="#262626" stroke-width="0.35">0.6</text>
<text x="272" y="288.6" text-anchor="end" fill="#262626" font-size="10.6" stroke="#262626" stroke-width="0.35">0.4</text>
<text x="272" y="318.6" text-anchor="end" fill="#262626" font-size="10.6" stroke="#262626" stroke-width="0.35">0.2</text>
<text x="272" y="348.6" text-anchor="end" fill="#262626" font-size="10.6" stroke="#262626" stroke-width="0.35">0.0</text>
<text x="272" y="378.6" text-anchor="end" fill="#262626" font-size="10.6" stroke="#262626" stroke-width="0.35">-0.2</text>
<text x="289.8" y="388" text-anchor="middle" fill="#262626" font-size="10.6" stroke="#262626" stroke-width="0.35">-3</text>
<text x="317.6" y="388" text-anchor="middle" fill="#262626" font-size="10.6" stroke="#262626" stroke-width="0.35">-2</text>
<text x="345.4" y="388" text-anchor="middle" fill="#262626" font-size="10.6" stroke="#262626" stroke-width="0.35">-1</text>
<text x="373.2" y="388" text-anchor="middle" fill="#262626" font-size="10.6" stroke="#262626" stroke-width="0.35">0</text>
<text x="401" y="388" text-anchor="middle" fill="#262626" font-size="10.6" stroke="#262626" stroke-width="0.35">1</text>
<text x="428.8" y="388" text-anchor="middle" fill="#262626" font-size="10.6" stroke="#262626" stroke-width="0.35">2</text>
<text x="456.6" y="388" text-anchor="middle" fill="#262626" font-size="10.6" stroke="#262626" stroke-width="0.35">3</text>
<text x="374" y="402.5" text-anchor="middle" fill="#262626" font-size="10.6" stroke="#262626" stroke-width="0.35">Input Bias (V)</text>
<text transform="translate(242 303) rotate(-90)" text-anchor="middle" fill="#262626" font-size="10.6" stroke="#262626" stroke-width="0.35">Current (mA</text>
<text x="236" y="230.8" font-size="11.6" fill="#1a1a1a" stroke="#1a1a1a" stroke-width="0.3">(c)</text>
<defs><clipPath id="clc"><rect x="276.5" y="220.5" width="194.5" height="155"/></clipPath><clipPath id="cld"><rect x="521.5" y="220.5" width="193" height="155"/></clipPath><clipPath id="clb"><rect x="35" y="220.5" width="194" height="155"/></clipPath></defs>
<g fill="none" stroke="#2848f0" stroke-width="1.5" stroke-linejoin="round" clip-path="url(#clc)">
<path d="M289.9 360.4 C292.4 359.8 300.1 357.8 304.8 357.1 C309.5 356.4 313.9 356 318 356 C322.1 356 325 356.4 329.7 357.1 C334.4 357.8 341.8 359.6 346.2 360.4 C350.6 361.2 353.4 362.2 356.2 362.1 C359 362 360.9 361.1 362.8 359.6 C364.7 358.1 365.9 355.4 367.5 353 C369.1 350.6 369.6 350.2 372.7 345.5 C375.8 340.8 381.4 332.2 386 325 C390.6 317.8 395.3 309.9 400 302 C404.7 294.1 409.3 285.8 414 277.5 C418.7 269.2 423.7 259.4 428 252 C432.3 244.6 436.4 238.2 440 233 C443.6 227.8 447.2 223.5 449.4 220.7 C451.6 217.9 452.4 216.8 453 216"/>
<path d="M455 217 C455.1 222.5 455.3 239 455.5 250 C455.7 261 456.1 274.7 456.2 283 C456.3 291.3 456.2 295.5 456 300 C455.8 304.5 456.1 307.4 455 310.2 C453.9 313 451.5 314.4 449.4 317 C447.3 319.6 446.4 323.3 442.6 326.1 C438.8 328.9 433.1 331.8 426.7 334 C420.3 336.2 413 337.5 404 339.3 C395 341.1 385.1 342.9 372.7 345 C360.3 347.1 343.5 349.1 329.7 351.7 C315.9 354.3 296.5 358.9 289.9 360.4"/>
<path d="M414 277.5 C414.6 276.6 416.1 273.5 417.5 272 C418.9 270.5 418.8 269.7 422.2 268.3 C425.6 266.9 434 264.4 438 263.8 C442 263.2 443.7 263.2 446 264.9 C448.3 266.6 450 270.2 451.6 274 C453.2 277.8 455 283.1 455.7 287.6 C456.4 292.1 456 296.6 455.7 301.2 C455.4 305.8 455.3 310.1 453.9 315 C452.5 319.9 449.8 327.5 447.1 330.6 C444.5 333.7 441.4 332.7 438 333.5 C434.6 334.3 433 334.3 426.7 335.5 C420.4 336.7 404.4 339.7 400 340.5"/>
</g>
<rect x="521.5" y="220.5" width="193" height="154.5" fill="#fcacac"/>
<path d="M520.5 219.5 V375.8" fill="none" stroke="#2a0e0e" stroke-width="2"/>
<path d="M519.5 375 H715" fill="none" stroke="#2a0e0e" stroke-width="1.6"/>
<path d="M520.5 239.8 h3.4M520.5 262.5 h3.4M520.5 285.2 h3.4M520.5 307.9 h3.4M520.5 330.6 h3.4M520.5 353.3 h3.4M520.5 376 h3.4M531.5 375 v-3.6M553.1 375 v-3.6M574.7 375 v-3.6M596.3 375 v-3.6M617.9 375 v-3.6M639.5 375 v-3.6M661.1 375 v-3.6M682.7 375 v-3.6M704.3 375 v-3.6" stroke="#2a0e0e" stroke-width="1.7" fill="none"/>
<path d="M520.5 228.5 h2.2M520.5 251.2 h2.2M520.5 273.9 h2.2M520.5 296.6 h2.2M520.5 319.2 h2.2M520.5 341.9 h2.2M520.5 364.7 h2.2M520.7 375 v-2.2M542.3 375 v-2.2M563.9 375 v-2.2M585.5 375 v-2.2M607.1 375 v-2.2M628.7 375 v-2.2M650.3 375 v-2.2M671.9 375 v-2.2M693.5 375 v-2.2M715.1 375 v-2.2" stroke="#2a0e0e" stroke-width="1.6" fill="none"/>
<text x="517.5" y="243.6" text-anchor="end" fill="#262626" font-size="10.6" stroke="#262626" stroke-width="0.35">2.5</text>
<text x="517.5" y="266.3" text-anchor="end" fill="#262626" font-size="10.6" stroke="#262626" stroke-width="0.35">2.0</text>
<text x="517.5" y="289" text-anchor="end" fill="#262626" font-size="10.6" stroke="#262626" stroke-width="0.35">1.5</text>
<text x="517.5" y="311.7" text-anchor="end" fill="#262626" font-size="10.6" stroke="#262626" stroke-width="0.35">1.0</text>
<text x="517.5" y="334.4" text-anchor="end" fill="#262626" font-size="10.6" stroke="#262626" stroke-width="0.35">0.5</text>
<text x="517.5" y="357.1" text-anchor="end" fill="#262626" font-size="10.6" stroke="#262626" stroke-width="0.35">0.0</text>
<text x="517.5" y="379.8" text-anchor="end" fill="#262626" font-size="10.6" stroke="#262626" stroke-width="0.35">-0.5</text>
<text x="531.5" y="388" text-anchor="middle" fill="#262626" font-size="10.6" stroke="#262626" stroke-width="0.35">-8</text>
<text x="553.1" y="388" text-anchor="middle" fill="#262626" font-size="10.6" stroke="#262626" stroke-width="0.35">-6</text>
<text x="574.7" y="388" text-anchor="middle" fill="#262626" font-size="10.6" stroke="#262626" stroke-width="0.35">-4</text>
<text x="596.3" y="388" text-anchor="middle" fill="#262626" font-size="10.6" stroke="#262626" stroke-width="0.35">-2</text>
<text x="617.9" y="388" text-anchor="middle" fill="#262626" font-size="10.6" stroke="#262626" stroke-width="0.35">0</text>
<text x="639.5" y="388" text-anchor="middle" fill="#262626" font-size="10.6" stroke="#262626" stroke-width="0.35">2</text>
<text x="661.1" y="388" text-anchor="middle" fill="#262626" font-size="10.6" stroke="#262626" stroke-width="0.35">4</text>
<text x="682.7" y="388" text-anchor="middle" fill="#262626" font-size="10.6" stroke="#262626" stroke-width="0.35">6</text>
<text x="704.3" y="388" text-anchor="middle" fill="#262626" font-size="10.6" stroke="#262626" stroke-width="0.35">8</text>
<text x="617" y="402.5" text-anchor="middle" fill="#262626" font-size="10.6" stroke="#262626" stroke-width="0.35">Input Bias (V)</text>
<text transform="translate(486 304) rotate(-90)" text-anchor="middle" fill="#262626" font-size="10.6" stroke="#262626" stroke-width="0.35">Current (mA)</text>
<text x="477.6" y="231.8" font-size="11.6" fill="#1a1a1a" stroke="#1a1a1a" stroke-width="0.3">(d)</text>
<g fill="none" stroke="#5a18d0" stroke-width="1.6" stroke-linejoin="round" clip-path="url(#cld)">
<path d="M541.7 363.1 C544.1 362.8 551 361.5 556 361 C561 360.5 565.4 360.2 571.4 360 C577.4 359.8 586.7 359.4 592 359.7 C597.3 360 600.5 361.4 603.1 362 C605.8 362.6 606.3 363.4 607.9 363.1 C609.5 362.8 611.1 362.2 612.8 360.3 C614.5 358.4 615.4 356.6 618.3 352 C621.2 347.4 622.9 344.6 630 332.8 C637.1 321 650.8 298.2 661 281 C671.2 263.8 686.2 238.4 691.5 229.5 C696.8 220.6 692.3 227.8 692.5 227.5"/>
<path d="M691.5 227.5 C691.6 228.1 692.2 228.1 692.4 231 C692.5 233.9 692.4 239.9 692.4 245 C692.4 250.1 692.7 254.6 692.2 261.7 C691.7 268.8 690.7 279 689.6 287.7 C688.5 296.4 687 306.2 685.7 313.6 C684.4 321 683.5 327 681.8 331.8 C680.1 336.6 678.1 339.8 675.3 342.2 C672.5 344.6 670.9 344.8 664.9 346.1 C658.9 347.4 647 348.9 639 350 C631 351.1 628.2 351.3 616.9 352.8 C605.6 354.3 583.9 357.3 571.4 359 C558.9 360.7 546.7 362.4 541.7 363.1"/>
<path d="M689.5 233 C689.4 236.5 688.9 244 688.6 254 C688.4 264 688.8 282.6 688 292.9 C687.2 303.2 685.8 310.1 684 316 C682.2 321.9 680 324.9 677 328 C674 331.1 670.2 332.1 666 334.5 C661.8 336.9 656.5 340.2 652 342.5 C647.5 344.8 643.5 346.6 639 348 C634.5 349.4 627.3 350.5 625 351"/>
<path d="M689.5 231 L691.2 227 L693.4 226.8 L693.6 232 Z" fill="#5a18d0"/>
<path d="M619 350.5 C620.8 347.3 623 343.3 630 331.5 C637 319.7 650.8 296.9 661 279.8 C671.2 262.8 686.2 237.6 691.2 229.2" stroke-width="1"/>
</g>
<rect x="0" y="399.5" width="480" height="12" fill="#fff"/>
<rect x="480" y="399.5" width="245" height="12" fill="#fff"/>
<text x="10.2" y="473.6" font-size="11.8" fill="#1a1a1a" stroke="#1a1a1a" stroke-width="0.3">(e)</text>
<path d="M33 521.7 L34.5 520.1 L36 518.6 L37.5 517.1 L39 515.9 L40.5 515 L42 514.3 L43.5 514 L45 514.1 L46.5 514.5 L48 515.3 L49.5 516.3 L51 517.6 L52.5 519.1 L54 520.7 L55.5 522.3 L57 523.8 L58.5 525.3 L60 526.5 L61.5 527.4 L63 528.1 L64.5 528.4 L66 528.3 L67.5 527.9 L69 527.1 L70.5 526.1 L72 524.8 L73.5 523.3 L75 521.7 L76.5 520.1 L78 518.6 L79.5 517.1 L81 515.9 L82.5 515 L84 514.3 L85.5 514 L87 514.1 L88.5 514.5 L90 515.3 L91.5 516.3 L93 517.6 L94.5 519.1 L96 520.7 L97.5 522.3 L99 523.8 L100.5 525.3 L102 526.5 L103.5 527.4 L105 528.1 L106.5 528.4 L108 528.3 L109.5 527.9 L111 527.1 L112.5 526.1 L114 524.8 L115.5 523.3 L117 521.7 L118.5 520.1 L120 518.6 L121.5 517.1 L123 515.9 L124.5 515" fill="none" stroke="#111" stroke-width="3.3" stroke-linecap="butt" stroke-linejoin="round"/>
<path d="M128.2 517.4 H132.4 M135.6 517.4 H138" stroke="#111" stroke-width="3"/>
<path d="M153.3 517.3 L134.3 509.4 L137.8 517.3 L134.3 525.2 Z" fill="#111"/>
<text x="40.2" y="553.8" font-size="17.1" fill="#1c1c1c" stroke="#1c1c1c" stroke-width="0.3">Input Signal</text>
<text x="183.6" y="451.9" font-size="20.6" fill="#1c1c1c" stroke="#1c1c1c" stroke-width="0.3">Reservoir</text>
<defs><clipPath id="rtri"><path d="M159 466 H260 L159 567.4 Z"/></clipPath><clipPath id="rtri2"><path d="M260 466 V567.4 H159 Z"/></clipPath></defs>
<rect x="159" y="466" width="101" height="101.4" fill="#fff"/>
<defs><filter id="tex3" x="0" y="0" width="1" height="1" filterUnits="objectBoundingBox"><feTurbulence type="fractalNoise" baseFrequency="0.45" numOctaves="2" seed="12" result="n"/><feColorMatrix in="n" type="matrix" values="1 0 0 0 0  0.8 0.2 0 0 0  0.8 0 0.2 0 0  0 0 0 0 1" result="g"/><feComponentTransfer in="g" result="gc"><feFuncR type="linear" slope="1.8" intercept="-0.4"/><feFuncG type="linear" slope="1.8" intercept="-0.4"/><feFuncB type="linear" slope="1.8" intercept="-0.4"/></feComponentTransfer><feComposite in="SourceGraphic" in2="gc" operator="arithmetic" k1="1.5" k2="0.25" k3="0" k4="0"/></filter></defs>
<g clip-path="url(#rtri)">
<path d="M187.6 530.6 L161.7 500.3M162.1 490.3 L198.2 500M174.6 530.8 L174.6 520.1M186.5 519.6 L174.6 530.8M246.4 490.7 L210.7 479.7M198.2 509.6 L174.6 479.3M162.7 550.8 L174.5 510.5M162.3 510.5 L174.5 540.1M174.6 520.1 L161.7 500.3M162.1 490.3 L174.6 479.3M198.2 509.6 L210.8 470.2M162.1 490.3 L162.6 479.8M198.2 479.6 L187.4 490.1M199.1 519.5 L187.5 500.2M246.4 490.7 L222.5 499.8M186.8 479.3 L187.4 490.1M210.8 470.2 L199 469.7M233.9 499.9 L199.1 519.5M161.6 519.7 L198.2 509.6M222.2 510.2 L198.2 500M222.4 520 L210.9 489.9M210.9 519.8 L199.3 490.5M162 470.1 L187.5 500.2M175 560.2 L162.3 560.1M174.2 489.9 L198.2 509.6M210.9 519.8 L186.6 550.4M187.6 510.5 L174.5 510.5M246.4 490.7 L234.8 510.5M162.3 539.9 L186.6 550.4M211.8 500.7 L198.2 509.6M186.9 469.7 L222.4 479.5M174.2 489.9 L162.6 479.8M222.4 520 L233.9 499.9M186.6 550.4 L161.6 531M211.8 500.7 L199.1 519.5M211 510.6 L211.8 500.7M234.4 490.6 L198.2 479.6M222.2 510.2 L198.2 479.6M198.2 509.6 L198.2 500M210.9 489.9 L222.2 510.2M222.2 470.6 L246.4 490.7M174.5 510.5 L161.6 519.7M223 490 L187.6 510.5M199 469.7 L174.2 489.9M211.8 500.7 L247.1 480.3M198.8 530.5 L198.3 540.7M199 469.7 L186.9 469.7M211 510.6 L174 500.3M246.5 469.6 L234.4 490.6M234.9 479.8 L211 510.6M222.4 479.5 L234.8 510.5M162.6 479.8 L187.4 490.1M198.2 500 L161.6 519.7M187.6 530.6 L222.4 520M162.6 479.8 L174 500.3M234.9 479.8 L246.5 469.6M162.3 510.5 L187.7 540.3M223 490 L198.2 509.6M233.9 499.9 L211.6 530.8M210.8 470.2 L222.2 470.6M174.5 510.5 L186.6 550.4M210.9 519.8 L187.6 510.5M199.1 519.5 L198.2 509.6M187.6 530.6 L199.1 519.5M187.6 510.5 L162.6 479.8M198.2 509.6 L186.5 519.6M162.3 510.5 L199.1 519.5M198.2 479.6 L199.3 490.5M234.4 490.6 L246.4 490.7M174.6 530.8 L162.7 550.8M211.6 530.8 L175.2 550.8M186.9 469.7 L223 490M187.4 490.1 L174.6 520.1M210.9 489.9 L199.3 490.5M223 490 L210.8 470.2M198.2 500 L210.9 489.9M187.6 510.5 L211.8 500.7M198.2 509.6 L210.9 489.9M198.2 509.6 L174 500.3M234.8 510.5 L199.1 519.5M211.8 500.7 L234.9 479.8M174.6 479.3 L186.9 469.7M210.7 479.7 L186.9 469.7M161.6 519.7 L174.6 530.8M187.6 510.5 L161.6 531M234.1 469.9 L222.4 479.5M186.5 519.6 L211.8 500.7M198.2 500 L211.8 500.7M198.2 500 L211.6 530.8M222.2 510.2 L198.8 530.5M174.2 489.9 L174.6 479.3M162.3 539.9 L174 500.3M198.2 500 L187.4 490.1M210.7 479.7 L187.5 500.2M199 469.7 L187.5 500.2M186.5 519.6 L174.2 489.9M210.7 479.7 L174.2 469.4M233.9 499.9 L222.4 479.5M247.1 480.3 L246.5 469.6M174.2 489.9 L198.2 500M210.8 470.2 L186.8 479.3M234.9 479.8 L222.2 510.2M174.6 530.8 L174.5 540.1M186.5 519.6 L162.7 550.8M222.4 520 L187.7 540.3M186.5 519.6 L174 500.3M187.4 490.1 L211.8 500.7M161.7 500.3 L174.5 510.5M174.5 540.1 L210.9 519.8M174 500.3 L210.9 519.8M186.5 519.6 L198.3 540.7M198.2 500 L199.3 490.5M222.2 510.2 L186.5 519.6M187.6 530.6 L198.2 509.6M210.9 519.8 L222.2 510.2M162.1 490.3 L187.6 510.5M198.2 479.6 L174.2 469.4M234.8 510.5 L199.3 490.5M199.1 519.5 L210.9 489.9M187.6 530.6 L175.2 550.8M187.5 500.2 L198.2 509.6M198.8 530.5 L175.2 550.8M210.9 519.8 L222.4 479.5M162.6 479.8 L162 470.1M187.6 530.6 L222.2 510.2M211.6 530.8 L187.6 510.5M186.5 519.6 L161.7 500.3M234.9 479.8 L246.4 490.7M174.5 510.5 L187.7 540.3M223 490 L198.2 479.6M174.6 520.1 L162.1 490.3M234.9 479.8 L223 490M210.7 479.7 L222.4 479.5M161.7 500.3 L187.4 490.1M210.9 519.8 L187.6 530.6M199 469.7 L210.7 479.7M198.2 509.6 L234.4 490.6M162.7 550.8 L175.2 550.8M210.9 489.9 L234.8 510.5M210.8 470.2 L174.2 489.9M198.2 500 L211 510.6M174.6 530.8 L187.7 540.3M174.5 510.5 L199.1 519.5M198.8 530.5 L174.6 520.1M187.4 490.1 L174 500.3M199.3 490.5 L222.5 499.8M186.6 550.4 L187.7 540.3M233.9 499.9 L210.7 479.7M222.5 499.8 L234.4 490.6M211 510.6 L187.5 500.2M187.7 540.3 L198.3 540.7M234.4 490.6 L222.4 520M187.4 490.1 L210.9 519.8M186.6 550.4 L198.3 540.7M211.6 530.8 L174.5 540.1M174.5 510.5 L186.5 519.6M198.2 509.6 L174.6 520.1M161.6 519.7 L187.5 500.2M162.6 479.8 L187.5 500.2M211.6 530.8 L186.5 519.6M187.6 510.5 L199.1 519.5M161.7 500.3 L199.1 519.5M211 510.6 L233.9 499.9M161.6 519.7 L174.5 540.1M211 510.6 L187.7 540.3M174.5 510.5 L199.3 490.5M222.4 479.5 L210.9 489.9M222.2 510.2 L234.4 490.6M187.5 500.2 L222.4 479.5M162.3 539.9 L187.6 530.6M187.6 530.6 L162.3 560.1M174.2 469.4 L186.9 469.7M174 500.3 L187.6 510.5M187.7 540.3 L198.2 509.6M175.2 550.8 L174.5 540.1M174.6 479.3 L161.7 500.3M162.1 490.3 L186.9 469.7M174.6 479.3 L187.4 490.1M210.7 479.7 L198.2 500M174.5 540.1 L186.5 519.6M210.9 519.8 L198.8 530.5M161.7 500.3 L174 500.3M198.2 509.6 L222.4 520M210.7 479.7 L246.5 469.6M222.5 499.8 L210.9 489.9M174.5 540.1 L198.2 509.6M162.3 560.1 L198.3 540.7M162 470.1 L174 500.3M234.8 510.5 L198.2 500M199.3 490.5 L174.2 469.4M186.5 519.6 L162.3 510.5M198.8 530.5 L175 560.2M187.5 500.2 L162.3 510.5M199 469.7 L222.5 499.8M175.2 550.8 L198.3 540.7M186.5 519.6 L198.8 530.5M174.2 489.9 L187.6 510.5M211.8 500.7 L186.8 479.3M187.6 510.5 L161.6 519.7M211.8 500.7 L222.4 479.5M161.6 531 L174.5 510.5M162.1 490.3 L174.2 469.4M162.3 510.5 L186.8 479.3M234.4 490.6 L222.2 470.6M187.6 510.5 L198.2 479.6M210.9 489.9 L222.2 470.6M174.2 489.9 L186.8 479.3M198.8 530.5 L187.6 510.5M174.5 510.5 L187.4 490.1M198.3 540.7 L187.6 530.6M222.2 470.6 L186.8 479.3M162.7 550.8 L174.6 520.1M198.8 530.5 L162.3 510.5M198.3 540.7 L187.5 500.2M162.1 490.3 L186.5 519.6M210.9 519.8 L234.8 510.5M222.5 499.8 L187.6 510.5M198.2 509.6 L187.6 510.5M186.5 519.6 L174.6 479.3M186.8 479.3 L198.2 509.6M174.6 520.1 L198.3 540.7M186.8 479.3 L161.7 500.3M199.3 490.5 L210.7 479.7M187.7 540.3 L187.6 530.6M186.9 469.7 L161.7 500.3M187.6 510.5 L210.7 479.7M247.1 480.3 L210.8 470.2M174.6 520.1 L162.3 539.9M174.6 520.1 L198.2 500M161.7 500.3 L198.2 479.6M211 510.6 L222.5 499.8M162.7 550.8 L162.3 539.9M187.4 490.1 L222.2 470.6M162.6 479.8 L199 469.7M174 500.3 L174.2 489.9M161.7 500.3 L174.2 489.9M162.6 479.8 L174.6 479.3M174.2 489.9 L199.1 519.5M211.8 500.7 L174.6 520.1M161.6 531 L175 560.2M223 490 L234.4 490.6M187.6 530.6 L161.6 519.7M198.2 500 L210.9 519.8M210.7 479.7 L210.8 470.2M175.2 550.8 L199.1 519.5M234.1 469.9 L246.4 490.7M199.3 490.5 L161.7 500.3M174.6 479.3 L162.3 510.5M198.8 530.5 L222.4 520M198.2 479.6 L234.1 469.9M161 470 H258M162.1 468 V566" stroke="#5050dc" stroke-width="0.5" fill="none" opacity="0.8"/>
<path d="M162 470.1 h0.1M162.6 479.8 h0.1M162.1 490.3 h0.1M161.7 500.3 h0.1M162.3 510.5 h0.1M161.6 519.7 h0.1M161.6 531 h0.1M162.3 539.9 h0.1M162.7 550.8 h0.1M162.3 560.1 h0.1M174.2 469.4 h0.1M174.6 479.3 h0.1M174.2 489.9 h0.1M174 500.3 h0.1M174.5 510.5 h0.1M174.6 520.1 h0.1M174.6 530.8 h0.1M174.5 540.1 h0.1M175.2 550.8 h0.1M175 560.2 h0.1M186.9 469.7 h0.1M186.8 479.3 h0.1M187.4 490.1 h0.1M187.5 500.2 h0.1M187.6 510.5 h0.1M186.5 519.6 h0.1M187.6 530.6 h0.1M187.7 540.3 h0.1M186.6 550.4 h0.1M199 469.7 h0.1M198.2 479.6 h0.1M199.3 490.5 h0.1M198.2 500 h0.1M198.2 509.6 h0.1M199.1 519.5 h0.1M198.8 530.5 h0.1M198.3 540.7 h0.1M210.8 470.2 h0.1M210.7 479.7 h0.1M210.9 489.9 h0.1M211.8 500.7 h0.1M211 510.6 h0.1M210.9 519.8 h0.1M211.6 530.8 h0.1M222.2 470.6 h0.1M222.4 479.5 h0.1M223 490 h0.1M222.5 499.8 h0.1M222.2 510.2 h0.1M222.4 520 h0.1M234.1 469.9 h0.1M234.9 479.8 h0.1M234.4 490.6 h0.1M233.9 499.9 h0.1M234.8 510.5 h0.1M246.5 469.6 h0.1M247.1 480.3 h0.1M246.4 490.7 h0.1" stroke="#3434b0" stroke-width="2.3" stroke-linecap="round" fill="none"/>
</g>
<g clip-path="url(#rtri2)">
<rect x="159" y="466" width="101" height="101.4" fill="#7e6e76" filter="url(#tex3)"/>
<path d="M228 535 V567 M228 539 H250 M250 510 V539 M222 508 H246 M222 508 V520 M258 478 H246 Q242 478 242 486 V500 M211 565 V535 Q211 530 215 530 M240 567 V548 Q240 543 244 543 Q248 543 248 548 V567 M196 533 Q186 540 192 552 Q196 560 190 566 M204 527 Q214 534 206 548 M237 493 Q250 490 258 494 M250 470 Q245 475 255 482" stroke="#d0c6cc" stroke-width="1.8" fill="none" opacity="0.75"/>
<path d="M163.2 495.4 q3.9 2 4.2 -8M213.2 526 q-0.5 1.3 0.7 -4.9M214.8 491.9 q-1.9 0.4 -2.1 -9.6M245.3 526.9 q3.8 -3.6 -0.4 5.6M204.8 554.9 q0.9 2.4 -4 7.9M210.4 539 q-3.1 -2.6 2.6 -3.3M224 524.5 q-3.6 -0.6 -1.6 -8.8M229.6 548.8 q2.1 -0 -0.7 -10.2M225 517.6 q-0 1.3 -4.3 4.1M219.6 511.9 q1.6 1.6 -3.1 7.1M255.7 479 q-2.9 2 0.3 -8.8M212.2 565.5 q0.2 -3.3 7.3 0.2M215.6 513.7 q1.4 1.7 10.8 -4.6M257.6 527.9 q2.8 -0.7 -1.4 4.7M168.6 489 q3.4 -2.3 -4.2 10.8M176 525.1 q0.5 3.3 9.9 -0.3M248.4 559.3 q3.5 -2.3 4.8 9.8M197.9 471 q2.3 2.4 -5.2 2.9M208 506.4 q-0.2 -0.1 -8.4 -5.6M222.7 484.3 q-0.6 -3.6 -8.3 0.7M187.6 561.8 q1.9 0.1 -5.9 -5.6M216.7 531.6 q-3.5 1.8 1 4.7M237.7 479.8 q-3 4 0.6 10.7M243.9 511.4 q-1.9 3 4.3 -5.6M226.9 496.5 q-2.5 0.1 -6.2 -5M172.8 487.1 q1.6 0.1 -6.6 4.2M214.8 497.7 q3 2.7 -6.7 2.1M213.5 511.4 q-1.2 -3.2 5.3 6.2M197 527.7 q2 -0.1 6.9 8.3M161.1 542.9 q-3.5 2.8 -0.4 -9.3M215.8 501.7 q-1 2.3 7.3 7.1M186 546.8 q-0.1 3.4 5.8 5.4M188.5 537 q-2.4 2.1 2 11.2M195.1 537.9 q3.3 2.4 -9.9 -1.3M207.8 492 q3.3 3.2 3.9 -5.2M172 557.9 q-1 2.8 5.3 -3.2M190 538.6 q-3.7 -1.4 3.5 -3M197.3 496 q1.1 -0.9 4.4 -10.2M194.1 556.7 q-2.3 -3.4 9.5 1.9M164.8 520.8 q-3.5 -0.3 -3.4 -2.9M205 563.6 q1.5 -1.8 -7.8 6.9M209.5 513.8 q-1.8 -1.9 8.8 1.2M182 518.6 q-4 0.4 10.6 -5.3M244.9 543.3 q3.1 1.5 9.3 5M239.7 492.7 q2.4 -2.3 3.3 2.5M199.6 481.8 q-1.3 1.5 1.9 4.9M240.5 495.7 q1.3 -0 -6 3.5M224.6 502.6 q1.9 3 -3.1 -10.9M258.9 548.6 q2.8 0.1 4.9 -4.3M227.9 470.1 q-0.1 -1.2 -5.3 -5.1M199.7 540.7 q1.1 -1.1 -2.1 -5.7M228.3 484.5 q0.5 -3 3.5 -4.4M258.3 530.8 q-1.8 -2.7 7 7M180.1 528.7 q3.8 -0.2 -2.4 8.9M229.4 545.9 q-1.8 -2 5.5 -2.7M226.6 505.1 q-2.7 4 -2.2 -4.6M247.1 485.6 q2.4 -0.8 -5.2 6.5M250.5 550.1 q-3.5 -0.5 3.3 -4.2M247 531.6 q-0.7 -2.9 1.6 9.6M217.6 534.2 q2.9 -0.5 1.3 6.1M243.4 522.2 q-0.5 -2.8 8.8 -6.7M248.4 493.3 q-0.8 -1.4 -5.6 -2.6M168.1 486.3 q-2.8 -3.9 -8 -2.7M236.1 533.7 q-2.9 2.3 6.7 0.2M259.2 507.3 q0.5 0.5 6.7 1.4M181.5 528.3 q-2.5 -1.7 2.8 -5.3M185 547.3 q-3.6 2.9 -10.4 -5M254.5 520.4 q-3.8 0.4 -2.8 -5.5M166.3 513 q-1.1 2.1 3.4 -3M186.5 490.8 q-1.5 0.3 7.1 -3.6" stroke="#3a3038" stroke-width="0.7" fill="none" opacity="0.6"/>
<path d="M226.6 547.1 q-0.1 2.7 1.3 -11.4M200.9 556.8 q-2.9 -1.4 -2.9 -2.9M232.4 517.1 q1 -0.4 -2 11.8M191.2 472.7 q-1.9 -2.3 -5 -7.2M178 470.7 q-2.4 -1.2 4.4 4.7M175.6 503.7 q-0.8 -3.6 1.7 3.8M169.5 562 q-3.8 -2.6 5.4 -8.5M166.7 525.5 q-0.2 3.5 -5.8 -3.1M209.9 544.8 q-3.4 -0.9 8 -6.8M252.1 555 q-3.9 1.8 1.4 -8.1M226.2 558 q-1.2 -0.5 8.4 3M231.5 508.8 q-3 1.9 11.2 -2.2M234.4 510.1 q0 -1 -10.5 2.2M214.1 470.3 q-0.4 -1.7 7.2 -4M164.6 471.5 q-1.4 -2 -3.8 7.4M222.3 485 q-3.6 3.7 -8.3 1.6M235.3 556.6 q3.4 2.3 4.2 3.5M174.2 477.6 q-1.9 -2.5 4.8 3.7M163.8 500.6 q-2.3 -3.9 -6.7 -0.8M202.7 515.4 q-3.1 -0.5 5.7 -1.4M235.7 554.6 q-3.6 3 7.2 3.5M257.3 472.6 q-2.6 -1.3 9.8 -3.8M252.9 562.5 q-0.7 0.9 1.2 6.2M163.1 534.9 q-3.3 1.2 -7.7 1.7M213.2 498 q0.5 4 11.3 -3.1M197.8 548.5 q3.6 1.3 -3.3 -10.2M180.9 487.2 q0.6 -3.7 0.6 -5.3M187.8 492.1 q-1.5 -3.9 -5 7.5M166.9 486.8 q2.2 -2.4 -2.2 -10.7M167.1 492.8 q-1.8 -2.9 -6.3 6.3M172.4 475.6 q-0.1 -3.1 -7.3 -0.6M172.3 554.6 q1.2 -2.2 4.4 -1.4M207.7 486.1 q1.1 -1.1 -4.9 3M193.3 525 q1.3 -3.9 -3.3 -5.2M221.1 467.5 q2.9 -0.9 -6.2 6.2M187.8 476.3 q-3.2 1.3 7.4 -6.9M205.3 487.1 q-3.8 0.7 1 -4M229.7 566 q1.3 -2.8 4.4 -10.1M167.3 483.2 q1.2 -3.5 -7.8 -0.3M182.2 468.1 q-2.2 0.3 1.9 -7.2" stroke="#b8acb4" stroke-width="0.7" fill="none" opacity="0.6"/>
<circle cx="196" cy="533" r="2.5" fill="#2a2a2a" opacity="0.8"/>
</g>
<rect x="159" y="466" width="101" height="101.4" fill="none" stroke="#4a4a4a" stroke-width="1.1"/>
<rect x="264.7" y="467.8" width="30.2" height="29.5" fill="#dcdcdc" stroke="#1e1e1e" stroke-width="2"/>
<text x="271.3" y="491.8" font-size="31" fill="#1a1a1a" stroke="#1a1a1a" stroke-width="0.4">r</text>
<text x="281.3" y="493.1" font-size="11.8" fill="#1a1a1a" stroke="#1a1a1a" stroke-width="0.2">1</text>
<path d="M299.5 482.4 H303 M309.8 482.4 H315.8 M322 482.4 H325" stroke="#111" stroke-width="2"/>
<path d="M334 482.4 L322.4 477.6 L325 482.4 L322.4 487.2 Z" fill="#111"/>
<rect x="264.7" y="502.8" width="30.2" height="29.5" fill="#dcdcdc" stroke="#1e1e1e" stroke-width="2"/>
<text x="271.3" y="526.8" font-size="31" fill="#1a1a1a" stroke="#1a1a1a" stroke-width="0.4">r</text>
<text x="281.3" y="528.1" font-size="11.8" fill="#1a1a1a" stroke="#1a1a1a" stroke-width="0.2">2</text>
<path d="M299.5 517.4 H303 M309.8 517.4 H315.8 M322 517.4 H325" stroke="#111" stroke-width="2"/>
<path d="M334 517.4 L322.4 512.6 L325 517.4 L322.4 522.2 Z" fill="#111"/>
<rect x="264.7" y="537.8" width="30.2" height="29.5" fill="#dcdcdc" stroke="#1e1e1e" stroke-width="2"/>
<text x="271.3" y="561.8" font-size="31" fill="#1a1a1a" stroke="#1a1a1a" stroke-width="0.4">r</text>
<text x="281.3" y="563.1" font-size="11.8" fill="#1a1a1a" stroke="#1a1a1a" stroke-width="0.2">3</text>
<path d="M299.5 552.4 H303 M309.8 552.4 H315.8 M322 552.4 H325" stroke="#111" stroke-width="2"/>
<path d="M334 552.4 L322.4 547.6 L325 552.4 L322.4 557.2 Z" fill="#111"/>
<path d="M339.7 481.4 L349.8 472 L370.4 492.5 L390.6 472 L410.7 492.5 L420.4 483" fill="none" stroke="#d01818" stroke-width="3" stroke-linejoin="miter"/>
<path d="M339.4 517.3 L340.2 516 L341 514.6 L341.8 513.4 L342.6 512.3 L343.4 511.4 L344.2 510.8 L345 510.5 L345.8 510.6 L346.6 510.9 L347.4 511.6 L348.2 512.5 L349 513.7 L349.8 514.9 L350.6 516.3 L351.4 517.7 L352.2 519 L353 520.2 L353.8 521.1 L354.6 521.8 L355.4 522.2 L356.2 522.3 L357 522 L357.8 521.5 L358.6 520.7 L359.4 519.6 L360.2 518.4 L361 517 L361.8 515.6 L362.6 514.3 L363.4 513.1 L364.2 512 L365 511.2 L365.8 510.7 L366.6 510.5 L367.4 510.6 L368.2 511.1 L369 511.8 L369.8 512.8 L370.6 514 L371.4 515.3 L372.2 516.7 L373 518 L373.8 519.3 L374.6 520.4 L375.4 521.3 L376.2 521.9 L377 522.3 L377.8 522.3 L378.6 521.9 L379.4 521.3 L380.2 520.4 L381 519.3 L381.8 518 L382.6 516.7 L383.4 515.3 L384.2 514 L385 512.8 L385.8 511.8 L386.6 511.1 L387.4 510.6 L388.2 510.5 L389 510.7 L389.8 511.2 L390.6 512 L391.4 513.1 L392.2 514.3 L393 515.6 L393.8 517 L394.6 518.4 L395.4 519.6 L396.2 520.7 L397 521.5 L397.8 522 L398.6 522.3 L399.4 522.2 L400.2 521.8 L401 521.1 L401.8 520.2 L402.6 519 L403.4 517.7 L404.2 516.3 L405 514.9 L405.8 513.7 L406.6 512.5 L407.4 511.6 L408.2 510.9 L409 510.6 L409.8 510.5 L410.6 510.8 L411.4 511.4 L412.2 512.3 L413 513.4 L413.8 514.6 L414.6 516 L415.4 517.3 L416.2 518.7 L417 519.9 L417.8 520.9 L418.6 521.7 L419.4 522.1 L420.2 522.3 L421 522.1 L421.8 521.7 L422.6 520.9 L423.4 519.9 L424.2 518.7 L425 517.3 L425.8 516" fill="none" stroke="#1f6420" stroke-width="3.3"/>
<path d="M339.7 552.4 V542.1 H360.1 V562.3 H380.5 V542.1 H401 V562.3 H420.4 V542.1 H430.1" fill="none" stroke="#1e1e98" stroke-width="3.2"/>
<text x="279" y="588.4" font-size="17.2" fill="#1c1c1c" stroke="#1c1c1c" stroke-width="0.3" text-anchor="middle">Linear</text>
<text x="281.4" y="607.8" font-size="17.2" fill="#1c1c1c" stroke="#1c1c1c" stroke-width="0.3" text-anchor="middle">Readouts</text>
<text x="384.3" y="588.4" font-size="17.2" fill="#1c1c1c" stroke="#1c1c1c" stroke-width="0.3" text-anchor="middle">Output</text>
<text x="386.8" y="607.8" font-size="17.2" fill="#1c1c1c" stroke="#1c1c1c" stroke-width="0.3" text-anchor="middle">Signals</text>
<text x="494" y="447.4" font-size="12" fill="#1a1a1a" stroke="#1a1a1a" stroke-width="0.3">(f)</text>
<rect x="534.7" y="436" width="188.3" height="154.2" fill="none" stroke="#1a1a1a" stroke-width="1.35"/>
<path d="M534.7 559.9 h3.5M723 559.9 h-3.5M534.7 529.2 h3.5M723 529.2 h-3.5M534.7 498.6 h3.5M723 498.6 h-3.5M534.7 467.9 h3.5M723 467.9 h-3.5M534.7 575.2 h2.2M723 575.2 h-2.2M534.7 544.5 h2.2M723 544.5 h-2.2M534.7 513.9 h2.2M723 513.9 h-2.2M534.7 483.2 h2.2M723 483.2 h-2.2M534.7 452.6 h2.2M723 452.6 h-2.2M593.7 590.2 v-3.5M652.5 590.2 v-3.5M711.3 590.2 v-3.5M564.3 590.2 v-2.2M623.1 590.2 v-2.2M681.9 590.2 v-2.2M552.9 436 v2.5M571.7 436 v2.5M591.3 436 v2.5M610.7 436 v2.5M630 436 v2.5M649.7 436 v2.5M668.5 436 v2.5M688.7 436 v2.5M707.5 436 v2.5" stroke="#111" stroke-width="1.3" fill="none"/>
<text x="530.8" y="594.2" text-anchor="end" font-size="10.2" fill="#383838" stroke="#383838" stroke-width="0.2">0.00</text>
<text x="530.8" y="563.6" text-anchor="end" font-size="10.2" fill="#383838" stroke="#383838" stroke-width="0.2">0.05</text>
<text x="530.8" y="532.9" text-anchor="end" font-size="10.2" fill="#383838" stroke="#383838" stroke-width="0.2">0.10</text>
<text x="530.8" y="502.2" text-anchor="end" font-size="10.2" fill="#383838" stroke="#383838" stroke-width="0.2">0.15</text>
<text x="530.8" y="471.6" text-anchor="end" font-size="10.2" fill="#383838" stroke="#383838" stroke-width="0.2">0.20</text>
<text x="534.9" y="603" text-anchor="middle" font-size="10.2" fill="#383838" stroke="#383838" stroke-width="0.2">0</text>
<text x="593.7" y="603" text-anchor="middle" font-size="10.2" fill="#383838" stroke="#383838" stroke-width="0.2">5</text>
<text x="653.1" y="603" text-anchor="middle" font-size="10.2" fill="#383838" stroke="#383838" stroke-width="0.2">10</text>
<text x="711.3" y="603" text-anchor="middle" font-size="10.2" fill="#383838" stroke="#383838" stroke-width="0.2">15</text>
<text x="500.8" y="517.6" font-size="14" fill="#111" stroke="#111" stroke-width="0.3">MSE</text>
<text x="580.3" y="613" font-size="14.2" fill="#111" stroke="#111" stroke-width="0.25">Input Bias (V)</text>
<path d="M546.7 550.7 L558.4 543.9 L570.2 546.4 L581.9 547 L593.7 552.5 L617.2 564.8 L652.5 567.2 L676 559.2 L711.3 552.5" fill="none" stroke="#e02222" stroke-width="1.1"/>
<path d="M546.7 495.5 L558.4 483.2 L570.2 487.5 L581.9 490.6 L593.7 494.3 L617.2 516.9 L652.5 510.2 L676 509 L711.3 501" fill="none" stroke="#2424f4" stroke-width="1.5"/>
<path d="M546.7 569.7 L558.4 578.9 L570.2 573.9 L581.9 576.4 L593.7 567.2 L617.2 475.3 L652.5 479.5 L676 459.9 L711.3 478.9" fill="none" stroke="#2e7a1c" stroke-width="1.2"/>
<rect x="543.9" y="547.9" width="5.6" height="5.6" fill="#e02222"/>
<rect x="555.6" y="541.1" width="5.6" height="5.6" fill="#e02222"/>
<rect x="567.4" y="543.6" width="5.6" height="5.6" fill="#e02222"/>
<rect x="579.1" y="544.2" width="5.6" height="5.6" fill="#e02222"/>
<rect x="590.9" y="549.7" width="5.6" height="5.6" fill="#e02222"/>
<rect x="614.4" y="562" width="5.6" height="5.6" fill="#e02222"/>
<rect x="649.7" y="564.4" width="5.6" height="5.6" fill="#e02222"/>
<rect x="673.2" y="556.4" width="5.6" height="5.6" fill="#e02222"/>
<rect x="708.5" y="549.7" width="5.6" height="5.6" fill="#e02222"/>
<circle cx="546.7" cy="495.5" r="3.4" fill="#2424f4"/>
<circle cx="558.4" cy="483.2" r="3.4" fill="#2424f4"/>
<circle cx="570.2" cy="487.5" r="3.4" fill="#2424f4"/>
<circle cx="581.9" cy="490.6" r="3.4" fill="#2424f4"/>
<circle cx="593.7" cy="494.3" r="3.4" fill="#2424f4"/>
<circle cx="617.2" cy="516.9" r="3.4" fill="#2424f4"/>
<circle cx="652.5" cy="510.2" r="3.4" fill="#2424f4"/>
<circle cx="676" cy="509" r="3.4" fill="#2424f4"/>
<circle cx="711.3" cy="501" r="3.4" fill="#2424f4"/>
<path d="M546.7 565.5 l4 6.6 h-8 Z" fill="#2e7a1c"/>
<path d="M558.4 574.7 l4 6.6 h-8 Z" fill="#2e7a1c"/>
<path d="M570.2 569.7 l4 6.6 h-8 Z" fill="#2e7a1c"/>
<path d="M581.9 572.2 l4 6.6 h-8 Z" fill="#2e7a1c"/>
<path d="M593.7 563 l4 6.6 h-8 Z" fill="#2e7a1c"/>
<path d="M617.2 471.1 l4 6.6 h-8 Z" fill="#2e7a1c"/>
<path d="M652.5 475.3 l4 6.6 h-8 Z" fill="#2e7a1c"/>
<path d="M676 455.7 l4 6.6 h-8 Z" fill="#2e7a1c"/>
<path d="M711.3 474.7 l4 6.6 h-8 Z" fill="#2e7a1c"/>
<rect x="539.3" y="440.2" width="63.3" height="34" fill="#fff" stroke="#e4e4e4" stroke-width="0.8"/>
<path d="M542 445.7 H562.8" stroke="#e84040" stroke-width="1.1"/><rect x="550.1" y="443.2" width="5" height="5" fill="#e02222"/>
<text x="566.5" y="449" font-size="9.6" fill="#363636" stroke="#363636" stroke-width="0.2">Triangle</text>
<path d="M542 457.6 H562.8" stroke="#2424f4" stroke-width="1.4"/><circle cx="552.6" cy="457.6" r="3.6" fill="#2424f4"/>
<text x="566.5" y="461" font-size="9.6" fill="#363636" stroke="#363636" stroke-width="0.2">Square</text>
<path d="M542 469.4 H562.8" stroke="#7ab06a" stroke-width="1.1"/><path d="M552.6 465.2 l4 6.6 h-8 Z" fill="#2e7a1c"/>
<text x="566.5" y="472.8" font-size="9.6" fill="#363636" stroke="#363636" stroke-width="0.2">Sin 2x</text>
</svg></body></html>
